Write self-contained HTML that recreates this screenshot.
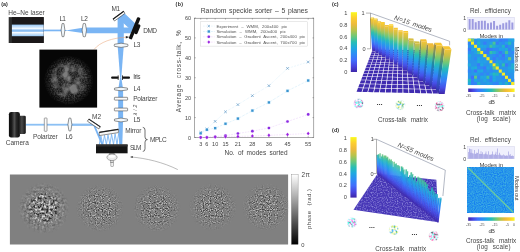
<!DOCTYPE html>
<html><head><meta charset="utf-8"><title>Figure</title>
<style>
html,body{margin:0;padding:0;background:#fff;}
body{width:520px;height:252px;overflow:hidden;}
svg{display:block;font-family:"Liberation Sans",sans-serif;}
</style></head><body>
<svg width="520" height="252" viewBox="0 0 520 252">
<rect x="0" y="0" width="520" height="252" fill="#ffffff"/>
<defs>
<linearGradient id="lb" x1="0" y1="0" x2="0" y2="1"><stop offset="0" stop-color="#98c8f5"/><stop offset="0.22" stop-color="#cfe5fb"/><stop offset="0.38" stop-color="#ffffff"/><stop offset="0.45" stop-color="#8abef4"/><stop offset="0.58" stop-color="#8abef4"/><stop offset="0.66" stop-color="#ffffff"/><stop offset="0.8" stop-color="#cfe5fb"/><stop offset="1" stop-color="#98c8f5"/></linearGradient>
<linearGradient id="gbar" x1="0" y1="0" x2="0" y2="1"><stop offset="0" stop-color="#ffffff"/><stop offset="1" stop-color="#000000"/></linearGradient>
<radialGradient id="spk" cx="0.5" cy="0.5" r="0.5"><stop offset="0" stop-color="#fff" stop-opacity="1"/><stop offset="0.7" stop-color="#fff" stop-opacity="0.9"/><stop offset="1" stop-color="#fff" stop-opacity="0"/></radialGradient>
<radialGradient id="blobm" cx="0.5" cy="0.5" r="0.5"><stop offset="0" stop-color="#fff" stop-opacity="1"/><stop offset="0.55" stop-color="#fff" stop-opacity="0.85"/><stop offset="1" stop-color="#fff" stop-opacity="0"/></radialGradient>
<filter id="fspk" x="0" y="0" width="1" height="1" color-interpolation-filters="sRGB">
<feTurbulence type="fractalNoise" baseFrequency="0.14" numOctaves="2" seed="12" result="n"/>
<feColorMatrix in="n" type="matrix" values="0 0 0 0 0  0 0 0 0 0  0 0 0 0 0  3.0 1.0 0 0 -1.55" result="a"/>
<feFlood flood-color="#808080"/><feComposite in2="a" operator="in"/><feGaussianBlur stdDeviation="0.35"/>
</filter>
<filter id="fspk2" x="0" y="0" width="1" height="1" color-interpolation-filters="sRGB">
<feTurbulence type="fractalNoise" baseFrequency="0.7" numOctaves="1" seed="9" result="n"/>
<feColorMatrix in="n" type="matrix" values="0 0 0 0 0  0 0 0 0 0  0 0 0 0 0  3 0 0 0 -1.15" result="a"/>
<feFlood flood-color="#4c4c4c"/><feComposite in2="a" operator="in"/>
</filter>
<filter id="fph1" x="0" y="0" width="1" height="1" color-interpolation-filters="sRGB">
<feTurbulence type="fractalNoise" baseFrequency="0.45" numOctaves="2" seed="3" result="n"/>
<feColorMatrix in="n" type="matrix" values="2.6 0 0 0 -0.8  2.6 0 0 0 -0.8  2.6 0 0 0 -0.8  0 0 0 0 1"/>
<feComponentTransfer><feFuncR type="table" tableValues="0.16 0.32 0.46 0.5 0.54 0.68 0.84"/><feFuncG type="table" tableValues="0.16 0.32 0.46 0.5 0.54 0.68 0.84"/><feFuncB type="table" tableValues="0.16 0.32 0.46 0.5 0.54 0.68 0.84"/></feComponentTransfer>
</filter>
<filter id="fph2" x="0" y="0" width="1" height="1" color-interpolation-filters="sRGB">
<feTurbulence type="fractalNoise" baseFrequency="0.85" numOctaves="1" seed="11" result="n"/>
<feColorMatrix in="n" type="matrix" values="3.2 0 0 0 -1.1  3.2 0 0 0 -1.1  3.2 0 0 0 -1.1  0 0 0 0 1"/>
<feComponentTransfer><feFuncR type="table" tableValues="0.27 0.41 0.5 0.5 0.5 0.59 0.73"/><feFuncG type="table" tableValues="0.27 0.41 0.5 0.5 0.5 0.59 0.73"/><feFuncB type="table" tableValues="0.27 0.41 0.5 0.5 0.5 0.59 0.73"/></feComponentTransfer>
</filter>
<radialGradient id="blob1" cx="0.5" cy="0.5" r="0.5"><stop offset="0" stop-color="#fff" stop-opacity="1"/><stop offset="0.45" stop-color="#fff" stop-opacity="0.95"/><stop offset="0.62" stop-color="#fff" stop-opacity="0.4"/><stop offset="1" stop-color="#fff" stop-opacity="0"/></radialGradient>
<radialGradient id="blob2" cx="0.5" cy="0.5" r="0.5"><stop offset="0" stop-color="#fff" stop-opacity="1"/><stop offset="0.5" stop-color="#fff" stop-opacity="0.85"/><stop offset="0.75" stop-color="#fff" stop-opacity="0.4"/><stop offset="1" stop-color="#fff" stop-opacity="0"/></radialGradient>
<mask id="mspk"><circle cx="68.8" cy="80.3" r="19.5" fill="url(#spk)"/></mask><mask id="mspk2"><circle cx="68.8" cy="80.3" r="25" fill="url(#spk)"/></mask>
</defs>
<text x="1.3" y="5.6" font-size="5.3" textLength="6.5" lengthAdjust="spacing" fill="#2a2a2a" font-weight="bold">(a)</text>
<text x="8.3" y="15.1" font-size="6.5" word-spacing="0.27" textLength="36.4" lengthAdjust="spacing" fill="#454545">He–Ne laser</text>
<rect x="8.7" y="17.1" width="35" height="25.9" fill="#2e2e2e"/>
<rect x="11.9" y="17.1" width="31.8" height="25.9" fill="#1b1819"/>
<rect x="11.9" y="24.6" width="31.8" height="11.6" fill="url(#lb)"/>
<rect x="43.7" y="29.6" width="19.5" height="1.7" fill="#7ab5f4"/>
<polygon points="63,29.6 67.1,30.3 84.3,27.6 84.3,33.3 67.1,30.7 63,31.3" fill="#7ab5f4"/>
<polygon points="84.3,27.6 133.2,27.6 130.9,33.3 84.3,33.3" fill="#7ab5f4"/>
<polygon points="123.6,12.6 135.8,23.9 132.6,31.5 128.2,27.6 123.8,23.4 117.6,17.8" fill="#7ab5f4"/>
<polygon points="117.6,17.2 123.8,12.6 123.8,45.3 117.6,45.3" fill="#7ab5f4"/>
<polygon points="117.6,45.3 123.8,45.3 121.3,77.6 120.1,77.6" fill="#7ab5f4"/>
<polygon points="120.1,77.6 121.3,77.6 123.1,89 118.3,89" fill="#7ab5f4"/>
<rect x="118.2" y="89" width="4.9" height="31" fill="#7ab5f4"/>
<polygon points="118.2,120 123.1,120 122.3,144.5 119.2,144.5" fill="#7ab5f4"/>
<path d="M120.6,144.5 L118.7,133.2 L117.0,144.5 L115.1,133.7 L113.5,144.5 L111.6,134.3 L109.9,144.5 L108.0,134.8 L106.4,144.5 L104.5,135.4 L102.8,144.5 L100.9,135.9 L99.3,144.5" fill="none" stroke="#7ab5f4" stroke-width="0.9" stroke-linejoin="miter"/>
<path d="M102.3,144.5 L94.4,126" fill="none" stroke="#7ab5f4" stroke-width="1.9"/>
<rect x="25.8" y="123.8" width="43.7" height="1.8" fill="#8cc0f4"/>
<rect x="69.5" y="123.6" width="25.5" height="2.3" fill="#8cc0f4"/>
<path d="M62.05,23.700000000000003 Q63,23.1 63.95,23.700000000000003 Q65.85,30.1 63.95,36.5 Q63,37.1 62.05,36.5 Q60.15,30.1 62.05,23.700000000000003 Z" fill="#f2f8fc" stroke="#4a4a4a" stroke-width="0.6"/>
<path d="M83.2,23.700000000000003 Q84.3,23.1 85.39999999999999,23.700000000000003 Q87.6,30.1 85.39999999999999,36.5 Q84.3,37.1 83.2,36.5 Q81.0,30.1 83.2,23.700000000000003 Z" fill="#f2f8fc" stroke="#4a4a4a" stroke-width="0.6"/>
<text x="59.4" y="21.2" font-size="6.5" textLength="6.4" lengthAdjust="spacing" fill="#454545">L1</text>
<text x="81" y="21.2" font-size="6.5" textLength="6.8" lengthAdjust="spacing" fill="#454545">L2</text>
<g transform="translate(119,16.1) rotate(-36)"><rect x="-6.5" y="-1.2" width="13" height="2.5" fill="#fff" stroke="#2a2a2a" stroke-width="0.5"/><rect x="-6.7" y="-1.6" width="13.4" height="1.1" fill="#1a1a1a"/></g>
<text x="111.6" y="11.1" font-size="6.5" textLength="8.5" lengthAdjust="spacing" fill="#454545">M1</text>
<g transform="translate(134.6,28.3) rotate(22.5)"><rect x="-1.7" y="-11.6" width="3.4" height="23.2" rx="1" fill="#111"/><rect x="1" y="-5.4" width="3.6" height="10.4" rx="1.6" fill="#111"/></g>
<text x="143.3" y="33.2" font-size="6.5" textLength="13.6" lengthAdjust="spacing" fill="#454545">DMD</text>
<path d="M94,49.5 C100,42 112,38 126.2,37.2" fill="none" stroke="#e8a070" stroke-width="0.5"/>
<polygon points="125.8,35.9 129.2,37.1 125.8,38.4" fill="#222"/>
<path d="M114.5,44.25 Q113.9,45.3 114.5,46.349999999999994 Q121.1,48.449999999999996 127.69999999999999,46.349999999999994 Q128.29999999999998,45.3 127.69999999999999,44.25 Q121.1,42.15 114.5,44.25 Z" fill="#f2f8fc" stroke="#4a4a4a" stroke-width="0.6"/>
<text x="133.6" y="47.4" font-size="6.5" textLength="6.8" lengthAdjust="spacing" fill="#454545">L3</text>
<rect x="111.1" y="76.5" width="7.4" height="2.2" rx="1" fill="#111"/><rect x="122.3" y="76.5" width="7.7" height="2.2" rx="1" fill="#111"/><rect x="117.7" y="75.4" width="0.9" height="4.5" fill="#222"/><rect x="122" y="75.4" width="0.9" height="4.5" fill="#222"/>
<text x="133.2" y="79.4" font-size="6.5" textLength="7.4" lengthAdjust="spacing" fill="#454545">Iris</text>
<path d="M114.6,88.1 Q114.0,89 114.6,89.9 Q121,91.7 127.4,89.9 Q128.0,89 127.4,88.1 Q121,86.3 114.6,88.1 Z" fill="#f2f8fc" stroke="#4a4a4a" stroke-width="0.6"/>
<text x="133.6" y="91.1" font-size="6.5" textLength="6.8" lengthAdjust="spacing" fill="#454545">L4</text>
<rect x="114.4" y="97.3" width="13.2" height="2.8" rx="0.5" fill="#fbfbfb" stroke="#4a4a4a" stroke-width="0.6"/>
<text x="133.2" y="100.8" font-size="6.5" textLength="24.2" lengthAdjust="spacing" fill="#454545">Polarizer</text>
<rect x="114.4" y="108.1" width="13.2" height="2.8" rx="0.5" fill="#fbfbfb" stroke="#4a4a4a" stroke-width="0.6"/>
<text x="136.6" y="115.3" font-size="5.0" textLength="10.6" lengthAdjust="spacing" fill="#454545" transform="rotate(-90 136.6 115.3)" font-style="italic">λ/2</text>
<path d="M114.6,119.05 Q114.0,120 114.6,120.95 Q121,122.85 127.4,120.95 Q128.0,120 127.4,119.05 Q121,117.15 114.6,119.05 Z" fill="#f2f8fc" stroke="#4a4a4a" stroke-width="0.6"/>
<text x="133.6" y="122.3" font-size="6.5" textLength="6.8" lengthAdjust="spacing" fill="#454545">L5</text>
<polygon points="99.3,132.2 118.4,129.2 118.4,132.6 99.3,135.6" fill="#f8f8f8" stroke="#222" stroke-width="0.5"/>
<polygon points="99.3,131.8 118.4,128.8 118.4,130.1 99.3,133.1" fill="#1c1c1c"/>
<rect x="96" y="144.5" width="31.6" height="8.8" fill="#141414"/>
<rect x="96" y="144.5" width="31.6" height="2" fill="#2f2f2f"/>
<rect x="109.2" y="153.3" width="5.4" height="1.6" fill="#555"/><ellipse cx="112" cy="157.3" rx="5.1" ry="3.3" fill="#ececec" stroke="#666" stroke-width="0.5"/><ellipse cx="112" cy="156.4" rx="3.2" ry="1.4" fill="#fff"/><rect x="110.4" y="160.4" width="3.3" height="2.2" fill="#d8d8d8" stroke="#666" stroke-width="0.4"/><rect x="110.9" y="162.6" width="2.4" height="3.8" fill="#f0f0f0" stroke="#555" stroke-width="0.4"/>
<text x="125.3" y="132.9" font-size="6.5" textLength="16.1" lengthAdjust="spacing" fill="#454545">Mirror</text>
<text x="129.9" y="149.5" font-size="6.5" textLength="11.5" lengthAdjust="spacing" fill="#454545">SLM</text>
<path d="M142.8,127.4 Q145,127.4 145,130 L145,137 Q145,139.6 147.4,139.6 Q145,139.6 145,142.2 L145,148.8 Q145,151.4 142.8,151.4" fill="none" stroke="#333" stroke-width="0.7"/>
<text x="149.9" y="142" font-size="6.5" textLength="16.8" lengthAdjust="spacing" fill="#454545">MPLC</text>
<g transform="translate(93.9,123.9) rotate(34)"><rect x="-6.9" y="-1.3" width="13.8" height="2.7" fill="#fff" stroke="#2a2a2a" stroke-width="0.55"/><rect x="-7" y="-1.6" width="14" height="1" fill="#222"/></g>
<text x="92" y="119" font-size="6.5" textLength="9" lengthAdjust="spacing" fill="#454545">M2</text>
<path d="M68.9,118.3 Q69.9,117.7 70.9,118.3 Q72.9,124.5 70.9,130.7 Q69.9,131.29999999999998 68.9,130.7 Q66.9,124.5 68.9,118.3 Z" fill="#f2f8fc" stroke="#4a4a4a" stroke-width="0.6"/>
<text x="65.4" y="138.7" font-size="6.5" textLength="7.2" lengthAdjust="spacing" fill="#454545">L6</text>
<rect x="44.3" y="118" width="2.7" height="13.3" rx="0.5" fill="#fbfbfb" stroke="#666" stroke-width="0.6"/>
<text x="33.1" y="138.7" font-size="6.5" textLength="24.6" lengthAdjust="spacing" fill="#454545">Polarizer</text>
<linearGradient id="camg" x1="0" y1="0" x2="1" y2="0"><stop offset="0" stop-color="#0c0c0c"/><stop offset="0.25" stop-color="#1a1a1a"/><stop offset="0.5" stop-color="#505050"/><stop offset="0.7" stop-color="#262626"/><stop offset="1" stop-color="#101010"/></linearGradient><linearGradient id="camg2" x1="0" y1="0" x2="1" y2="0"><stop offset="0" stop-color="#161616"/><stop offset="0.45" stop-color="#4a4a4a"/><stop offset="0.75" stop-color="#2a2a2a"/><stop offset="1" stop-color="#151515"/></linearGradient><rect x="8.9" y="112" width="11" height="25.4" rx="2.2" fill="url(#camg)"/><rect x="18.6" y="115.7" width="7.2" height="18.2" rx="1.3" fill="url(#camg2)"/>
<text x="5.8" y="144.5" font-size="6.5" textLength="23" lengthAdjust="spacing" fill="#454545">Camera</text>
<rect x="39.4" y="49.6" width="57.7" height="58" fill="#060606"/>
<radialGradient id="glow" cx="0.5" cy="0.5" r="0.5"><stop offset="0" stop-color="#fff" stop-opacity="0.13"/><stop offset="0.55" stop-color="#fff" stop-opacity="0.09"/><stop offset="1" stop-color="#fff" stop-opacity="0"/></radialGradient><circle cx="68.8" cy="80.3" r="25" fill="url(#glow)"/>
<g mask="url(#mspk2)"><rect x="39.8" y="49.6" width="57.3" height="58.3" filter="url(#fspk2)"/></g>
<g mask="url(#mspk)"><rect x="39.8" y="49.6" width="57.3" height="58.3" filter="url(#fspk)"/></g>
<path d="M131.5,157 C146,158.3 163,162.2 177.8,169.6" fill="none" stroke="#6a6a6a" stroke-width="0.45"/>
<polygon points="130,156.9 132.8,155.9 132.7,158.1" fill="#333"/>
<rect x="9.9" y="174.5" width="278.2" height="70" fill="#808080"/>
<mask id="mb0"><circle cx="43.8" cy="208.2" r="26" fill="url(#blob1)"/></mask><g mask="url(#mb0)"><rect x="17.799999999999997" y="182.2" width="52" height="52" filter="url(#fph1)"/></g>
<mask id="mb1"><circle cx="99.8" cy="208.2" r="24" fill="url(#blob2)"/></mask><g mask="url(#mb1)"><rect x="75.8" y="184.2" width="48" height="48" filter="url(#fph2)"/></g>
<mask id="mb2"><circle cx="156.8" cy="208.2" r="24" fill="url(#blob2)"/></mask><g mask="url(#mb2)"><rect x="132.8" y="184.2" width="48" height="48" filter="url(#fph2)"/></g>
<mask id="mb3"><circle cx="212.8" cy="207" r="24" fill="url(#blob2)"/></mask><g mask="url(#mb3)"><rect x="188.8" y="183" width="48" height="48" filter="url(#fph2)"/></g>
<mask id="mb4"><circle cx="266" cy="207" r="24" fill="url(#blob2)"/></mask><g mask="url(#mb4)"><rect x="242" y="183" width="48" height="48" filter="url(#fph2)"/></g>
<rect x="291.4" y="174.6" width="6.7" height="69.8" fill="url(#gbar)" stroke="#666" stroke-width="0.3"/>
<text x="301.6" y="177" font-size="6.4" textLength="8.4" lengthAdjust="spacing" fill="#454545">2π</text>
<text x="301.3" y="246.9" font-size="5.8" fill="#454545">0</text>
<text x="310.5" y="229" font-size="6.0" word-spacing="2.70" textLength="40" lengthAdjust="spacing" fill="#454545" transform="rotate(-90 310.5 229)">phase (rad.)</text>
<text x="175.6" y="5.6" font-size="5.3" textLength="7.3" lengthAdjust="spacing" fill="#2a2a2a" font-weight="bold">(b)</text>
<text x="200.7" y="12.8" font-size="6.8" word-spacing="0.82" textLength="107.3" lengthAdjust="spacing" fill="#454545">Random speckle sorter – 5 planes</text>
<rect x="194.5" y="18.2" width="119.30000000000001" height="119.3" fill="#fff" stroke="#555" stroke-width="0.5"/>
<path d="M200.70,137.5 v-1.3 M200.70,18.2 v1.3 M206.90,137.5 v-1.3 M206.90,18.2 v1.3 M215.17,137.5 v-1.3 M215.17,18.2 v1.3 M225.50,137.5 v-1.3 M225.50,18.2 v1.3 M237.91,137.5 v-1.3 M237.91,18.2 v1.3 M252.38,137.5 v-1.3 M252.38,18.2 v1.3 M268.91,137.5 v-1.3 M268.91,18.2 v1.3 M287.51,137.5 v-1.3 M287.51,18.2 v1.3 M308.19,137.5 v-1.3 M308.19,18.2 v1.3 M194.5,137.50 h1.3 M313.8,137.50 h-1.3 M194.5,117.58 h1.3 M313.8,117.58 h-1.3 M194.5,97.66 h1.3 M313.8,97.66 h-1.3 M194.5,77.74 h1.3 M313.8,77.74 h-1.3 M194.5,57.82 h1.3 M313.8,57.82 h-1.3 M194.5,37.90 h1.3 M313.8,37.90 h-1.3 M194.5,17.98 h1.3 M313.8,17.98 h-1.3 " stroke="#555" stroke-width="0.45" fill="none"/>
<text x="191.0" y="139.5" font-size="5.5" text-anchor="end" fill="#454545">0</text>
<text x="191.0" y="119.58" font-size="5.5" text-anchor="end" fill="#454545">10</text>
<text x="191.0" y="99.66" font-size="5.5" text-anchor="end" fill="#454545">20</text>
<text x="191.0" y="79.74000000000001" font-size="5.5" text-anchor="end" fill="#454545">30</text>
<text x="191.0" y="59.81999999999999" font-size="5.5" text-anchor="end" fill="#454545">40</text>
<text x="191.0" y="39.900000000000006" font-size="5.5" text-anchor="end" fill="#454545">50</text>
<text x="191.0" y="19.980000000000004" font-size="5.5" text-anchor="end" fill="#454545">60</text>
<text x="200.701" y="146.4" font-size="5.5" text-anchor="middle" fill="#454545">3</text>
<text x="206.902" y="146.4" font-size="5.5" text-anchor="middle" fill="#454545">6</text>
<text x="215.17000000000002" y="146.4" font-size="5.5" text-anchor="middle" fill="#454545">10</text>
<text x="225.505" y="146.4" font-size="5.5" text-anchor="middle" fill="#454545">15</text>
<text x="237.907" y="146.4" font-size="5.5" text-anchor="middle" fill="#454545">21</text>
<text x="252.376" y="146.4" font-size="5.5" text-anchor="middle" fill="#454545">28</text>
<text x="268.91200000000003" y="146.4" font-size="5.5" text-anchor="middle" fill="#454545">36</text>
<text x="287.515" y="146.4" font-size="5.5" text-anchor="middle" fill="#454545">45</text>
<text x="308.185" y="146.4" font-size="5.5" text-anchor="middle" fill="#454545">55</text>
<text x="224.5" y="154.9" font-size="6.5" word-spacing="1.49" textLength="63" lengthAdjust="spacing" fill="#454545">No. of modes sorted</text>
<text x="180.7" y="112.3" font-size="6.4" word-spacing="2.88" textLength="82" lengthAdjust="spacing" fill="#454545" transform="rotate(-90 180.7 112.3)">Average cross-talk, %</text>
<polyline points="200.70,132.32 206.90,128.93 215.17,121.36 225.50,111.80 237.91,104.63 252.38,95.67 268.91,85.71 287.51,68.38 308.19,62.00" fill="none" stroke="#8fd0f0" stroke-width="0.45" stroke-dasharray="0.5 1.1" opacity="0.8"/>
<polyline points="200.70,133.32 206.90,129.73 215.17,128.14 225.50,123.76 237.91,118.58 252.38,110.61 268.91,102.44 287.51,90.89 308.19,80.53" fill="none" stroke="#5ab8ea" stroke-width="0.45" stroke-dasharray="0.5 1.1" opacity="0.8"/>
<polyline points="200.70,137.30 206.90,137.20 215.17,136.70 225.50,135.61 237.91,133.52 252.38,131.13 268.91,127.94 287.51,121.56 308.19,114.39" fill="none" stroke="#c57af0" stroke-width="0.45" stroke-dasharray="0.5 1.1" opacity="0.8"/>
<polyline points="200.70,137.40 206.90,137.40 215.17,137.10 225.50,136.70 237.91,136.40 252.38,136.11 268.91,135.31 287.51,134.51 308.19,133.52" fill="none" stroke="#d070f0" stroke-width="0.45" stroke-dasharray="0.5 1.1" opacity="0.8"/>
<path d="M199.40,131.02 L202.00,133.62 M199.40,133.62 L202.00,131.02" stroke="#5893c2" stroke-width="0.65" fill="none"/><path d="M205.60,127.63 L208.20,130.23 M205.60,130.23 L208.20,127.63" stroke="#5893c2" stroke-width="0.65" fill="none"/><path d="M213.87,120.06 L216.47,122.66 M213.87,122.66 L216.47,120.06" stroke="#5893c2" stroke-width="0.65" fill="none"/><path d="M224.20,110.50 L226.81,113.10 M224.20,113.10 L226.81,110.50" stroke="#5893c2" stroke-width="0.65" fill="none"/><path d="M236.61,103.33 L239.21,105.93 M236.61,105.93 L239.21,103.33" stroke="#5893c2" stroke-width="0.65" fill="none"/><path d="M251.08,94.37 L253.68,96.97 M251.08,96.97 L253.68,94.37" stroke="#5893c2" stroke-width="0.65" fill="none"/><path d="M267.61,84.41 L270.21,87.01 M267.61,87.01 L270.21,84.41" stroke="#5893c2" stroke-width="0.65" fill="none"/><path d="M286.21,67.08 L288.81,69.68 M286.21,69.68 L288.81,67.08" stroke="#5893c2" stroke-width="0.65" fill="none"/><path d="M306.88,60.70 L309.49,63.30 M306.88,63.30 L309.49,60.70" stroke="#5893c2" stroke-width="0.65" fill="none"/>
<rect x="199.05" y="131.67" width="3.3" height="3.3" fill="#bfe6fa" opacity="0.6"/><rect x="199.55" y="132.17" width="2.3" height="2.3" fill="#3a93cf"/><rect x="205.25" y="128.08" width="3.3" height="3.3" fill="#bfe6fa" opacity="0.6"/><rect x="205.75" y="128.58" width="2.3" height="2.3" fill="#3a93cf"/><rect x="213.52" y="126.49" width="3.3" height="3.3" fill="#bfe6fa" opacity="0.6"/><rect x="214.02" y="126.99" width="2.3" height="2.3" fill="#3a93cf"/><rect x="223.85" y="122.11" width="3.3" height="3.3" fill="#bfe6fa" opacity="0.6"/><rect x="224.35" y="122.61" width="2.3" height="2.3" fill="#3a93cf"/><rect x="236.26" y="116.93" width="3.3" height="3.3" fill="#bfe6fa" opacity="0.6"/><rect x="236.76" y="117.43" width="2.3" height="2.3" fill="#3a93cf"/><rect x="250.73" y="108.96" width="3.3" height="3.3" fill="#bfe6fa" opacity="0.6"/><rect x="251.23" y="109.46" width="2.3" height="2.3" fill="#3a93cf"/><rect x="267.26" y="100.79" width="3.3" height="3.3" fill="#bfe6fa" opacity="0.6"/><rect x="267.76" y="101.29" width="2.3" height="2.3" fill="#3a93cf"/><rect x="285.87" y="89.24" width="3.3" height="3.3" fill="#bfe6fa" opacity="0.6"/><rect x="286.37" y="89.74" width="2.3" height="2.3" fill="#3a93cf"/><rect x="306.54" y="78.88" width="3.3" height="3.3" fill="#bfe6fa" opacity="0.6"/><rect x="307.04" y="79.38" width="2.3" height="2.3" fill="#3a93cf"/>
<circle cx="200.70" cy="137.30" r="1.8" fill="#e6c8fa" opacity="0.6"/><circle cx="200.70" cy="137.30" r="1.3" fill="#8a2be2"/><circle cx="206.90" cy="137.20" r="1.8" fill="#e6c8fa" opacity="0.6"/><circle cx="206.90" cy="137.20" r="1.3" fill="#8a2be2"/><circle cx="215.17" cy="136.70" r="1.8" fill="#e6c8fa" opacity="0.6"/><circle cx="215.17" cy="136.70" r="1.3" fill="#8a2be2"/><circle cx="225.50" cy="135.61" r="1.8" fill="#e6c8fa" opacity="0.6"/><circle cx="225.50" cy="135.61" r="1.3" fill="#8a2be2"/><circle cx="237.91" cy="133.52" r="1.8" fill="#e6c8fa" opacity="0.6"/><circle cx="237.91" cy="133.52" r="1.3" fill="#8a2be2"/><circle cx="252.38" cy="131.13" r="1.8" fill="#e6c8fa" opacity="0.6"/><circle cx="252.38" cy="131.13" r="1.3" fill="#8a2be2"/><circle cx="268.91" cy="127.94" r="1.8" fill="#e6c8fa" opacity="0.6"/><circle cx="268.91" cy="127.94" r="1.3" fill="#8a2be2"/><circle cx="287.51" cy="121.56" r="1.8" fill="#e6c8fa" opacity="0.6"/><circle cx="287.51" cy="121.56" r="1.3" fill="#8a2be2"/><circle cx="308.19" cy="114.39" r="1.8" fill="#e6c8fa" opacity="0.6"/><circle cx="308.19" cy="114.39" r="1.3" fill="#8a2be2"/>
<polygon points="200.70,135.15 202.50,137.40 200.70,139.65 198.90,137.40" fill="#ecc8fa" opacity="0.6"/><polygon points="200.70,135.65 202.10,137.40 200.70,139.15 199.30,137.40" fill="#9a22e0"/><polygon points="206.90,135.15 208.70,137.40 206.90,139.65 205.10,137.40" fill="#ecc8fa" opacity="0.6"/><polygon points="206.90,135.65 208.30,137.40 206.90,139.15 205.50,137.40" fill="#9a22e0"/><polygon points="215.17,134.85 216.97,137.10 215.17,139.35 213.37,137.10" fill="#ecc8fa" opacity="0.6"/><polygon points="215.17,135.35 216.57,137.10 215.17,138.85 213.77,137.10" fill="#9a22e0"/><polygon points="225.50,134.45 227.31,136.70 225.50,138.95 223.70,136.70" fill="#ecc8fa" opacity="0.6"/><polygon points="225.50,134.95 226.91,136.70 225.50,138.45 224.10,136.70" fill="#9a22e0"/><polygon points="237.91,134.15 239.71,136.40 237.91,138.65 236.11,136.40" fill="#ecc8fa" opacity="0.6"/><polygon points="237.91,134.65 239.31,136.40 237.91,138.15 236.51,136.40" fill="#9a22e0"/><polygon points="252.38,133.86 254.18,136.11 252.38,138.36 250.58,136.11" fill="#ecc8fa" opacity="0.6"/><polygon points="252.38,134.36 253.78,136.11 252.38,137.86 250.98,136.11" fill="#9a22e0"/><polygon points="268.91,133.06 270.71,135.31 268.91,137.56 267.11,135.31" fill="#ecc8fa" opacity="0.6"/><polygon points="268.91,133.56 270.31,135.31 268.91,137.06 267.51,135.31" fill="#9a22e0"/><polygon points="287.51,132.26 289.31,134.51 287.51,136.76 285.72,134.51" fill="#ecc8fa" opacity="0.6"/><polygon points="287.51,132.76 288.91,134.51 287.51,136.26 286.12,134.51" fill="#9a22e0"/><polygon points="308.19,131.27 309.98,133.52 308.19,135.77 306.39,133.52" fill="#ecc8fa" opacity="0.6"/><polygon points="308.19,131.77 309.58,133.52 308.19,135.27 306.79,133.52" fill="#9a22e0"/>
<rect x="200.4" y="21.8" width="106.8" height="24.3" fill="#fff" stroke="#c8c8c8" stroke-width="0.4"/>
<path d="M203,26.1 H214.6" stroke="#8fd0f0" stroke-width="0.45" stroke-dasharray="0.5 1.1" opacity="0.8"/><text x="216.4" y="27.6" font-size="4.3" word-spacing="1.82" textLength="70.6" lengthAdjust="spacing" fill="#555">Experiment – WMM, 200x400 pix</text>
<path d="M203,31.5 H214.6" stroke="#5ab8ea" stroke-width="0.45" stroke-dasharray="0.5 1.1" opacity="0.8"/><text x="216.4" y="33.0" font-size="4.3" word-spacing="1.88" textLength="69.2" lengthAdjust="spacing" fill="#555">Simulation – WMM, 200x400 pix</text>
<path d="M203,36.8 H214.6" stroke="#c57af0" stroke-width="0.45" stroke-dasharray="0.5 1.1" opacity="0.8"/><text x="216.4" y="38.3" font-size="4.3" word-spacing="1.51" textLength="88.6" lengthAdjust="spacing" fill="#555">Simulation – Gradient Ascent, 200x400 pix</text>
<path d="M203,42.1 H214.6" stroke="#d070f0" stroke-width="0.45" stroke-dasharray="0.5 1.1" opacity="0.8"/><text x="216.4" y="43.6" font-size="4.3" word-spacing="1.51" textLength="88.6" lengthAdjust="spacing" fill="#555">Simulation – Gradient Ascent, 700x700 pix</text>
<path d="M207.70,25.00 L209.90,27.20 M207.70,27.20 L209.90,25.00" stroke="#5893c2" stroke-width="0.65" fill="none"/><rect x="207.15" y="29.85" width="3.3" height="3.3" fill="#bfe6fa" opacity="0.6"/><rect x="207.65" y="30.35" width="2.3" height="2.3" fill="#3a93cf"/><circle cx="208.80" cy="36.80" r="1.8" fill="#e6c8fa" opacity="0.6"/><circle cx="208.80" cy="36.80" r="1.3" fill="#8a2be2"/><polygon points="208.80,39.90 210.56,42.10 208.80,44.30 207.04,42.10" fill="#ecc8fa" opacity="0.6"/><polygon points="208.80,40.40 210.16,42.10 208.80,43.80 207.44,42.10" fill="#9a22e0"/>
<defs><linearGradient id="pg1" x1="0" y1="1" x2="0" y2="0"><stop offset="0.00" stop-color="#3e26a8"/><stop offset="0.50" stop-color="#402eb6"/><stop offset="1.00" stop-color="#4336c4"/></linearGradient><linearGradient id="pg2" x1="0" y1="1" x2="0" y2="0"><stop offset="0.00" stop-color="#3e26a8"/><stop offset="0.50" stop-color="#4336c4"/><stop offset="1.00" stop-color="#4846e1"/></linearGradient><linearGradient id="pg3" x1="0" y1="1" x2="0" y2="0"><stop offset="0.00" stop-color="#3e26a8"/><stop offset="0.50" stop-color="#463ed3"/><stop offset="1.00" stop-color="#445aee"/></linearGradient><linearGradient id="pg4" x1="0" y1="1" x2="0" y2="0"><stop offset="0.00" stop-color="#3e26a8"/><stop offset="0.50" stop-color="#4846e1"/><stop offset="1.00" stop-color="#416efc"/></linearGradient><linearGradient id="pg5" x1="0" y1="1" x2="0" y2="0"><stop offset="0.00" stop-color="#3e26a8"/><stop offset="0.50" stop-color="#4650e8"/><stop offset="1.00" stop-color="#377df8"/></linearGradient><linearGradient id="pg6" x1="0" y1="1" x2="0" y2="0"><stop offset="0.00" stop-color="#3e26a8"/><stop offset="0.50" stop-color="#445aee"/><stop offset="1.00" stop-color="#2d8cf5"/></linearGradient><linearGradient id="pg7" x1="0" y1="1" x2="0" y2="0"><stop offset="0.00" stop-color="#3e26a8"/><stop offset="0.33" stop-color="#474de6"/><stop offset="0.67" stop-color="#3a78fa"/><stop offset="1.00" stop-color="#269aeb"/></linearGradient><linearGradient id="pg8" x1="0" y1="1" x2="0" y2="0"><stop offset="0.00" stop-color="#3e26a8"/><stop offset="0.33" stop-color="#4653ea"/><stop offset="0.67" stop-color="#3482f7"/><stop offset="1.00" stop-color="#20a8e1"/></linearGradient><linearGradient id="pg9" x1="0" y1="1" x2="0" y2="0"><stop offset="0.00" stop-color="#3e26a8"/><stop offset="0.25" stop-color="#474be4"/><stop offset="0.50" stop-color="#3c76fa"/><stop offset="0.75" stop-color="#2896ee"/><stop offset="1.00" stop-color="#24b3ca"/></linearGradient><linearGradient id="pg10" x1="0" y1="1" x2="0" y2="0"><stop offset="0.00" stop-color="#3e26a8"/><stop offset="0.25" stop-color="#4650e8"/><stop offset="0.50" stop-color="#377df8"/><stop offset="0.75" stop-color="#23a1e6"/><stop offset="1.00" stop-color="#28beb4"/></linearGradient><linearGradient id="pg11" x1="0" y1="1" x2="0" y2="0"><stop offset="0.00" stop-color="#3e26a8"/><stop offset="0.25" stop-color="#4555eb"/><stop offset="0.50" stop-color="#3284f7"/><stop offset="0.75" stop-color="#21abdb"/><stop offset="1.00" stop-color="#4bc396"/></linearGradient><linearGradient id="pg12" x1="0" y1="1" x2="0" y2="0"><stop offset="0.00" stop-color="#3e26a8"/><stop offset="0.20" stop-color="#474ee6"/><stop offset="0.40" stop-color="#397af9"/><stop offset="0.60" stop-color="#259de9"/><stop offset="0.80" stop-color="#26babd"/><stop offset="1.00" stop-color="#6ec878"/></linearGradient><linearGradient id="pg13" x1="0" y1="1" x2="0" y2="0"><stop offset="0.00" stop-color="#3e26a8"/><stop offset="0.20" stop-color="#4652e9"/><stop offset="0.40" stop-color="#3580f8"/><stop offset="0.60" stop-color="#21a5e3"/><stop offset="0.80" stop-color="#36c0a8"/><stop offset="1.00" stop-color="#94c661"/></linearGradient><linearGradient id="pg14" x1="0" y1="1" x2="0" y2="0"><stop offset="0.00" stop-color="#3e26a8"/><stop offset="0.17" stop-color="#474de6"/><stop offset="0.33" stop-color="#3a78fa"/><stop offset="0.50" stop-color="#269aeb"/><stop offset="0.67" stop-color="#25b7c3"/><stop offset="0.83" stop-color="#62c682"/><stop offset="1.00" stop-color="#b9c34b"/></linearGradient><linearGradient id="pg15" x1="0" y1="1" x2="0" y2="0"><stop offset="0.00" stop-color="#3e26a8"/><stop offset="0.17" stop-color="#4650e8"/><stop offset="0.33" stop-color="#377df8"/><stop offset="0.50" stop-color="#23a1e6"/><stop offset="0.67" stop-color="#28beb4"/><stop offset="0.83" stop-color="#81c76d"/><stop offset="1.00" stop-color="#d4be44"/></linearGradient><linearGradient id="pg16" x1="0" y1="1" x2="0" y2="0"><stop offset="0.00" stop-color="#3e26a8"/><stop offset="0.17" stop-color="#4653ea"/><stop offset="0.33" stop-color="#3482f7"/><stop offset="0.50" stop-color="#20a8e1"/><stop offset="0.67" stop-color="#3fc1a0"/><stop offset="0.83" stop-color="#a0c55a"/><stop offset="1.00" stop-color="#eeba3c"/></linearGradient><linearGradient id="pg17" x1="0" y1="1" x2="0" y2="0"><stop offset="0.00" stop-color="#3e26a8"/><stop offset="0.14" stop-color="#464fe7"/><stop offset="0.29" stop-color="#387bf9"/><stop offset="0.43" stop-color="#259ee8"/><stop offset="0.57" stop-color="#27bbba"/><stop offset="0.71" stop-color="#73c875"/><stop offset="0.86" stop-color="#c8c047"/><stop offset="1.00" stop-color="#f5c436"/></linearGradient><linearGradient id="pg18" x1="0" y1="1" x2="0" y2="0"><stop offset="0.00" stop-color="#3e26a8"/><stop offset="0.14" stop-color="#4651e9"/><stop offset="0.29" stop-color="#367ff8"/><stop offset="0.43" stop-color="#22a4e4"/><stop offset="0.57" stop-color="#32bfab"/><stop offset="0.71" stop-color="#8ec665"/><stop offset="0.86" stop-color="#dfbd40"/><stop offset="1.00" stop-color="#fccd30"/></linearGradient><linearGradient id="pg19" x1="0" y1="1" x2="0" y2="0"><stop offset="0.00" stop-color="#3e26a8"/><stop offset="0.12" stop-color="#474ee6"/><stop offset="0.25" stop-color="#3a79f9"/><stop offset="0.38" stop-color="#269cea"/><stop offset="0.50" stop-color="#26b8bf"/><stop offset="0.62" stop-color="#6ac77c"/><stop offset="0.75" stop-color="#c0c249"/><stop offset="0.88" stop-color="#f2c038"/><stop offset="1.00" stop-color="#fae327"/></linearGradient><linearGradient id="pg20" x1="0" y1="1" x2="0" y2="0"><stop offset="0.00" stop-color="#3e26a8"/><stop offset="0.12" stop-color="#4650e8"/><stop offset="0.25" stop-color="#377df8"/><stop offset="0.38" stop-color="#23a1e6"/><stop offset="0.50" stop-color="#28beb4"/><stop offset="0.62" stop-color="#81c76d"/><stop offset="0.75" stop-color="#d4be44"/><stop offset="0.88" stop-color="#f8c833"/><stop offset="1.00" stop-color="#f9fa1e"/></linearGradient><linearGradient id="pbar" x1="0" y1="1" x2="0" y2="0"><stop offset="0.00" stop-color="#3e26a8"/><stop offset="0.10" stop-color="#4846e1"/><stop offset="0.20" stop-color="#416efc"/><stop offset="0.30" stop-color="#2d8cf5"/><stop offset="0.40" stop-color="#20a8e1"/><stop offset="0.50" stop-color="#28beb4"/><stop offset="0.60" stop-color="#6ec878"/><stop offset="0.70" stop-color="#b9c34b"/><stop offset="0.80" stop-color="#eeba3c"/><stop offset="0.90" stop-color="#fccd30"/><stop offset="1.00" stop-color="#f9fa1e"/></linearGradient><linearGradient id="pbarh" x1="0" y1="0" x2="1" y2="0"><stop offset="0.00" stop-color="#3e26a8"/><stop offset="0.10" stop-color="#4846e1"/><stop offset="0.20" stop-color="#416efc"/><stop offset="0.30" stop-color="#2d8cf5"/><stop offset="0.40" stop-color="#20a8e1"/><stop offset="0.50" stop-color="#28beb4"/><stop offset="0.60" stop-color="#6ec878"/><stop offset="0.70" stop-color="#b9c34b"/><stop offset="0.80" stop-color="#eeba3c"/><stop offset="0.90" stop-color="#fccd30"/><stop offset="1.00" stop-color="#f9fa1e"/></linearGradient>
<filter id="fmat" x="0" y="0" width="1" height="1" color-interpolation-filters="sRGB">
<feTurbulence type="fractalNoise" baseFrequency="0.9" numOctaves="1" seed="4"/>
<feColorMatrix type="matrix" values="0.32 0 0 0 -0.005  0.4 0 0 0 0.385  -0.1 0 0 0 0.965  0 0 0 0 1"/>
</filter>
<filter id="ffloor" x="0" y="0" width="1" height="1" color-interpolation-filters="sRGB">
<feTurbulence type="fractalNoise" baseFrequency="0.8" numOctaves="1" seed="8"/>
<feColorMatrix type="matrix" values="0 0 0 0 0.75  0 0 0 0 0.75  0 0 0 0 0.95  3 0 0 0 -1.3"/>
</filter>
<filter id="fic1" x="0" y="0" width="1" height="1" color-interpolation-filters="sRGB">
<feTurbulence type="fractalNoise" baseFrequency="0.5" numOctaves="2" seed="7"/>
<feColorMatrix type="matrix" values="-2.2 0 0 0 1.9  0 -1.6 0 0 1.65  -0.9 -0.9 0 0 1.85  0 0 0 0 1"/>
</filter>
<filter id="fic2" x="0" y="0" width="1" height="1" color-interpolation-filters="sRGB">
<feTurbulence type="fractalNoise" baseFrequency="0.5" numOctaves="2" seed="12"/>
<feColorMatrix type="matrix" values="-1.9 0 0 0 1.78  -0.8 0 0 0 1.33  0 -1.9 0 0 1.78  0 0 0 0 1"/>
</filter>
<filter id="fic3" x="0" y="0" width="1" height="1" color-interpolation-filters="sRGB">
<feTurbulence type="fractalNoise" baseFrequency="0.5" numOctaves="2" seed="17"/>
<feColorMatrix type="matrix" values="0 -2.0 0 0 1.83  -2.2 0 0 0 1.9  -1.5 -0.6 0 0 1.92  0 0 0 0 1"/>
</filter>
<radialGradient id="icm" cx="0.5" cy="0.5" r="0.5"><stop offset="0" stop-color="#fff" stop-opacity="1"/><stop offset="0.7" stop-color="#fff" stop-opacity="0.95"/><stop offset="1" stop-color="#fff" stop-opacity="0"/></radialGradient>
</defs>
<text x="332.1" y="5.6" font-size="5.3" textLength="6.4" lengthAdjust="spacing" fill="#2a2a2a" font-weight="bold">(c)</text>
<rect x="350.8" y="12.2" width="6.2" height="59.8" fill="url(#pbar)"/>
<text x="347.4" y="15.1" font-size="5.6" text-anchor="end" fill="#454545">1</text>
<text x="347.4" y="26.799999999999997" font-size="5.6" text-anchor="end" fill="#454545">0.8</text>
<text x="347.4" y="38.5" font-size="5.6" text-anchor="end" fill="#454545">0.6</text>
<text x="347.4" y="50.199999999999996" font-size="5.6" text-anchor="end" fill="#454545">0.4</text>
<text x="347.4" y="61.9" font-size="5.6" text-anchor="end" fill="#454545">0.2</text>
<text x="347.4" y="73.59999999999998" font-size="5.6" text-anchor="end" fill="#454545">0</text>
<polygon points="376.42,49.53 379.59,49.58 379.14,51.17 375.89,51.12" fill="#3f2bb0"/><polygon points="380.11,49.58 383.29,49.63 382.91,51.22 379.67,51.17" fill="#3f2bb0"/><polygon points="383.81,49.63 386.99,49.67 386.70,51.27 383.44,51.23" fill="#3f2bb0"/><polygon points="387.51,49.68 390.70,49.72 390.48,51.32 387.23,51.28" fill="#3f2bb0"/><polygon points="391.22,49.73 394.41,49.77 394.28,51.37 391.01,51.33" fill="#3f2bb0"/><polygon points="394.93,49.78 398.13,49.82 398.07,51.42 394.81,51.38" fill="#3f2bb0"/><polygon points="398.65,49.83 401.85,49.87 401.88,51.48 398.61,51.43" fill="#3f2bb0"/><polygon points="402.37,49.88 405.58,49.92 405.69,51.53 402.41,51.48" fill="#3f2bb0"/><polygon points="406.10,49.93 409.31,49.97 409.50,51.58 406.22,51.53" fill="#3f2bb0"/><polygon points="409.83,49.98 413.05,50.02 413.32,51.63 410.03,51.59" fill="#3f2bb0"/><polygon points="413.57,50.03 416.79,50.07 417.14,51.68 413.85,51.64" fill="#3f2bb0"/><polygon points="417.32,50.08 420.54,50.12 420.97,51.74 417.68,51.69" fill="#3f2bb0"/><polygon points="421.06,50.13 424.29,50.17 424.81,51.79 421.51,51.74" fill="#3f2bb0"/><polygon points="424.82,50.18 428.05,50.22 428.65,51.84 425.34,51.79" fill="#3f2bb0"/>
<polygon points="375.33,51.10 375.86,49.54 374.01,17.51 373.40,18.46" fill="url(#pg18)"/><polygon points="375.33,51.10 375.86,49.54 374.01,17.51 373.40,18.46" fill="#1a2a6a" opacity="0.33"/><polygon points="372.17,51.05 375.33,51.10 373.40,18.46 369.95,18.43" fill="url(#pg18)"/><polygon points="370.64,17.48 374.01,17.51 373.40,18.46 369.95,18.43" fill="#fcd22e"/>
<polygon points="372.02,51.34 375.28,51.38 374.71,53.05 371.39,53.01" fill="#3f2bb0"/><polygon points="379.59,51.44 382.85,51.48 382.45,53.16 379.12,53.11" fill="#3f2bb0"/><polygon points="383.38,51.49 386.65,51.54 386.33,53.21 383.00,53.17" fill="#3f2bb0"/><polygon points="387.18,51.54 390.45,51.59 390.22,53.27 386.88,53.22" fill="#3f2bb0"/><polygon points="390.98,51.60 394.25,51.64 394.11,53.32 390.76,53.28" fill="#3f2bb0"/><polygon points="394.79,51.65 398.07,51.69 398.01,53.38 394.66,53.33" fill="#3f2bb0"/><polygon points="398.60,51.70 401.88,51.74 401.91,53.43 398.55,53.38" fill="#3f2bb0"/><polygon points="402.42,51.75 405.70,51.80 405.82,53.49 402.46,53.44" fill="#3f2bb0"/><polygon points="406.24,51.80 409.53,51.85 409.73,53.54 406.36,53.49" fill="#3f2bb0"/><polygon points="410.07,51.86 413.36,51.90 413.65,53.60 410.28,53.55" fill="#3f2bb0"/><polygon points="413.90,51.91 417.20,51.95 417.57,53.65 414.20,53.60" fill="#3f2bb0"/><polygon points="417.74,51.96 421.05,52.00 421.50,53.70 418.12,53.66" fill="#3f2bb0"/><polygon points="421.58,52.01 424.89,52.06 425.44,53.76 422.05,53.71" fill="#3f2bb0"/><polygon points="425.43,52.06 428.75,52.11 429.38,53.81 425.99,53.77" fill="#3f2bb0"/>
<polygon points="378.55,53.09 379.02,51.45 377.40,18.51 376.85,19.52" fill="url(#pg18)"/><polygon points="378.55,53.09 379.02,51.45 377.40,18.51 376.85,19.52" fill="#1a2a6a" opacity="0.33"/><polygon points="375.29,53.04 378.55,53.09 376.85,19.52 373.29,19.49" fill="url(#pg18)"/><polygon points="373.93,18.48 377.40,18.51 376.85,19.52 373.29,19.49" fill="#fcd42d"/>
<polygon points="371.28,53.29 374.62,53.33 374.02,55.09 370.61,55.04" fill="#3f2bb0"/><polygon points="375.16,53.34 378.50,53.39 377.99,55.15 374.58,55.10" fill="#3f2bb0"/><polygon points="382.93,53.45 386.28,53.50 385.95,55.26 382.53,55.21" fill="#3f2bb0"/><polygon points="386.83,53.50 390.18,53.55 389.94,55.32 386.51,55.27" fill="#3f2bb0"/><polygon points="390.73,53.56 394.09,53.60 393.94,55.38 390.50,55.33" fill="#3f2bb0"/><polygon points="394.63,53.61 398.00,53.66 397.94,55.43 394.50,55.39" fill="#3f2bb0"/><polygon points="398.55,53.67 401.91,53.71 401.94,55.49 398.50,55.44" fill="#3f2bb0"/><polygon points="402.46,53.72 405.84,53.77 405.95,55.55 402.50,55.50" fill="#3f2bb0"/><polygon points="406.38,53.78 409.76,53.82 409.97,55.61 406.52,55.56" fill="#3f2bb0"/><polygon points="410.31,53.83 413.70,53.88 413.99,55.66 410.53,55.61" fill="#3f2bb0"/><polygon points="414.25,53.89 417.63,53.93 418.02,55.72 414.56,55.67" fill="#3f2bb0"/><polygon points="418.19,53.94 421.58,53.99 422.06,55.78 418.59,55.73" fill="#3f2bb0"/><polygon points="422.13,54.00 425.53,54.04 426.10,55.84 422.62,55.79" fill="#3f2bb0"/><polygon points="426.08,54.05 429.48,54.10 430.15,55.89 426.67,55.85" fill="#3f2bb0"/>
<polygon points="381.94,55.19 382.35,53.46 381.06,21.24 380.58,22.34" fill="url(#pg18)"/><polygon points="381.94,55.19 382.35,53.46 381.06,21.24 380.58,22.34" fill="#1a2a6a" opacity="0.33"/><polygon points="378.59,55.14 381.94,55.19 380.58,22.34 376.92,22.31" fill="url(#pg18)"/><polygon points="377.49,21.21 381.06,21.24 380.58,22.34 376.92,22.31" fill="#f9c933"/>
<polygon points="370.50,55.34 373.92,55.39 373.29,57.24 369.79,57.19" fill="#3f2bb0"/><polygon points="374.48,55.39 377.91,55.44 377.37,57.30 373.86,57.25" fill="#3f2bb0"/><polygon points="378.47,55.45 381.90,55.50 381.46,57.36 377.94,57.31" fill="#3f2bb0"/><polygon points="386.46,55.57 389.90,55.62 389.65,57.48 386.12,57.43" fill="#3f2bb0"/><polygon points="390.46,55.62 393.91,55.67 393.75,57.54 390.22,57.49" fill="#3f2bb0"/><polygon points="394.47,55.68 397.93,55.73 397.86,57.60 394.33,57.55" fill="#3f2bb0"/><polygon points="398.49,55.74 401.95,55.79 401.98,57.66 398.44,57.61" fill="#3f2bb0"/><polygon points="402.51,55.80 405.97,55.85 406.10,57.73 402.55,57.67" fill="#3f2bb0"/><polygon points="406.54,55.85 410.01,55.90 410.23,57.79 406.68,57.73" fill="#3f2bb0"/><polygon points="410.57,55.91 414.04,55.96 414.36,57.85 410.80,57.79" fill="#3f2bb0"/><polygon points="414.61,55.97 418.09,56.02 418.50,57.91 414.94,57.85" fill="#3f2bb0"/><polygon points="418.66,56.03 422.14,56.08 422.65,57.97 419.08,57.92" fill="#3f2bb0"/><polygon points="422.71,56.09 426.20,56.14 426.80,58.03 423.23,57.98" fill="#3f2bb0"/><polygon points="426.76,56.14 430.26,56.20 430.96,58.09 427.38,58.04" fill="#3f2bb0"/>
<polygon points="385.53,57.41 385.87,55.57 384.85,21.91 384.45,23.07" fill="url(#pg18)"/><polygon points="385.53,57.41 385.87,55.57 384.85,21.91 384.45,23.07" fill="#1a2a6a" opacity="0.33"/><polygon points="382.06,57.36 385.53,57.41 384.45,23.07 380.64,23.04" fill="url(#pg18)"/><polygon points="381.14,21.88 384.85,21.91 384.45,23.07 380.64,23.04" fill="#fbcc31"/>
<polygon points="369.67,57.50 373.19,57.55 372.53,59.51 368.92,59.46" fill="#3f2bb0"/><polygon points="373.76,57.56 377.28,57.61 376.72,59.58 373.11,59.52" fill="#3f2bb0"/><polygon points="377.86,57.62 381.38,57.67 380.92,59.64 377.31,59.59" fill="#3f2bb0"/><polygon points="381.96,57.68 385.49,57.74 385.12,59.70 381.51,59.65" fill="#3f2bb0"/><polygon points="390.18,57.80 393.72,57.86 393.56,59.83 389.93,59.78" fill="#3f2bb0"/><polygon points="394.30,57.86 397.85,57.92 397.78,59.90 394.15,59.84" fill="#3f2bb0"/><polygon points="398.43,57.93 401.98,57.98 402.01,59.96 398.37,59.90" fill="#3f2bb0"/><polygon points="402.56,57.99 406.12,58.04 406.25,60.02 402.61,59.97" fill="#3f2bb0"/><polygon points="406.70,58.05 410.26,58.10 410.50,60.09 406.84,60.03" fill="#3f2bb0"/><polygon points="410.84,58.11 414.41,58.16 414.75,60.15 411.09,60.10" fill="#3f2bb0"/><polygon points="414.99,58.17 418.57,58.22 419.00,60.22 415.34,60.16" fill="#3f2bb0"/><polygon points="419.15,58.23 422.73,58.28 423.27,60.28 419.60,60.23" fill="#3f2bb0"/><polygon points="423.32,58.29 426.90,58.35 427.54,60.35 423.87,60.29" fill="#3f2bb0"/><polygon points="427.49,58.35 431.08,58.41 431.82,60.41 428.14,60.35" fill="#3f2bb0"/>
<polygon points="389.32,59.76 389.59,57.80 388.93,24.96 388.63,26.24" fill="url(#pg17)"/><polygon points="389.32,59.76 389.59,57.80 388.93,24.96 388.63,26.24" fill="#1a2a6a" opacity="0.33"/><polygon points="385.73,59.71 389.32,59.76 388.63,26.24 384.69,26.20" fill="url(#pg17)"/><polygon points="385.10,24.93 388.93,24.96 388.63,26.24 384.69,26.20" fill="#f6c535"/>
<polygon points="368.80,59.79 372.41,59.84 371.71,61.92 368.01,61.86" fill="#3f2bb0"/><polygon points="373.00,59.85 376.62,59.91 376.03,61.98 372.32,61.93" fill="#3f2bb0"/><polygon points="377.21,59.92 380.84,59.97 380.35,62.05 376.63,61.99" fill="#3f2bb0"/><polygon points="381.43,59.98 385.06,60.03 384.67,62.12 380.95,62.06" fill="#3f2bb0"/><polygon points="385.65,60.04 389.29,60.10 389.01,62.19 385.28,62.13" fill="#3f2bb0"/><polygon points="394.12,60.17 397.77,60.23 397.70,62.32 393.96,62.26" fill="#3f2bb0"/><polygon points="398.36,60.24 402.02,60.29 402.05,62.39 398.31,62.33" fill="#3f2bb0"/><polygon points="402.61,60.30 406.27,60.36 406.41,62.46 402.66,62.40" fill="#3f2bb0"/><polygon points="406.87,60.37 410.53,60.42 410.78,62.52 407.02,62.47" fill="#3f2bb0"/><polygon points="411.13,60.43 414.80,60.49 415.16,62.59 411.39,62.53" fill="#3f2bb0"/><polygon points="415.40,60.49 419.08,60.55 419.54,62.66 415.77,62.60" fill="#3f2bb0"/><polygon points="419.68,60.56 423.36,60.62 423.93,62.73 420.15,62.67" fill="#3f2bb0"/><polygon points="423.96,60.62 427.65,60.68 428.32,62.80 424.54,62.74" fill="#3f2bb0"/><polygon points="428.25,60.69 431.94,60.75 432.73,62.87 428.94,62.81" fill="#3f2bb0"/>
<polygon points="393.35,62.25 393.53,60.16 393.21,24.32 393.01,25.65" fill="url(#pg18)"/><polygon points="393.35,62.25 393.53,60.16 393.21,24.32 393.01,25.65" fill="#1a2a6a" opacity="0.33"/><polygon points="389.61,62.20 393.35,62.25 393.01,25.65 388.88,25.61" fill="url(#pg18)"/><polygon points="389.19,24.29 393.21,24.32 393.01,25.65 388.88,25.61" fill="#fcd02f"/>
<polygon points="367.88,62.21 371.60,62.26 370.85,64.46 367.04,64.40" fill="#3f2bb0"/><polygon points="372.20,62.27 375.93,62.33 375.29,64.53 371.47,64.47" fill="#3f2bb0"/><polygon points="376.53,62.34 380.26,62.40 379.74,64.60 375.92,64.54" fill="#3f2bb0"/><polygon points="380.87,62.41 384.61,62.47 384.20,64.68 380.37,64.61" fill="#3f2bb0"/><polygon points="385.22,62.48 388.96,62.54 388.66,64.75 384.82,64.69" fill="#3f2bb0"/><polygon points="389.57,62.54 393.32,62.60 393.13,64.82 389.29,64.76" fill="#3f2bb0"/><polygon points="398.30,62.68 402.06,62.74 402.09,64.96 398.24,64.90" fill="#3f2bb0"/><polygon points="402.67,62.75 406.44,62.81 406.58,65.03 402.72,64.97" fill="#3f2bb0"/><polygon points="407.05,62.82 410.82,62.88 411.08,65.11 407.21,65.04" fill="#3f2bb0"/><polygon points="411.44,62.89 415.22,62.95 415.59,65.18 411.71,65.12" fill="#3f2bb0"/><polygon points="415.83,62.95 419.61,63.01 420.10,65.25 416.22,65.19" fill="#3f2bb0"/><polygon points="420.23,63.02 424.02,63.08 424.62,65.32 420.74,65.26" fill="#3f2bb0"/><polygon points="424.64,63.09 428.44,63.15 429.15,65.40 425.26,65.33" fill="#3f2bb0"/><polygon points="429.05,63.16 432.86,63.22 433.69,65.47 429.79,65.41" fill="#3f2bb0"/>
<polygon points="397.63,64.90 397.71,62.66 397.82,27.69 397.73,29.17" fill="url(#pg17)"/><polygon points="397.63,64.90 397.71,62.66 397.82,27.69 397.73,29.17" fill="#1a2a6a" opacity="0.33"/><polygon points="393.73,64.84 397.63,64.90 397.73,29.17 393.44,29.13" fill="url(#pg17)"/><polygon points="393.64,27.65 397.82,27.69 397.73,29.17 393.44,29.13" fill="#f7c634"/>
<polygon points="366.90,64.77 370.73,64.83 369.94,67.16 366.01,67.10" fill="#3f2bb0"/><polygon points="371.35,64.84 375.19,64.90 374.52,67.24 370.58,67.17" fill="#3f2bb0"/><polygon points="375.81,64.91 379.65,64.97 379.10,67.31 375.16,67.25" fill="#3f2bb0"/><polygon points="380.28,64.98 384.13,65.05 383.69,67.39 379.74,67.32" fill="#3f2bb0"/><polygon points="384.76,65.06 388.61,65.12 388.29,67.47 384.34,67.40" fill="#3f2bb0"/><polygon points="389.24,65.13 393.10,65.19 392.90,67.54 388.94,67.48" fill="#3f2bb0"/><polygon points="393.73,65.20 397.59,65.26 397.51,67.62 393.54,67.55" fill="#3f2bb0"/><polygon points="402.73,65.34 406.61,65.41 406.77,67.77 402.78,67.70" fill="#3f2bb0"/><polygon points="407.24,65.42 411.13,65.48 411.40,67.85 407.41,67.78" fill="#3f2bb0"/><polygon points="411.76,65.49 415.65,65.55 416.05,67.92 412.05,67.86" fill="#3f2bb0"/><polygon points="416.29,65.56 420.18,65.63 420.70,68.00 416.70,67.93" fill="#3f2bb0"/><polygon points="420.82,65.64 424.72,65.70 425.36,68.08 421.35,68.01" fill="#3f2bb0"/><polygon points="425.36,65.71 429.27,65.77 430.03,68.15 426.02,68.09" fill="#3f2bb0"/><polygon points="429.91,65.78 433.83,65.84 434.71,68.23 430.69,68.17" fill="#3f2bb0"/>
<polygon points="398.11,67.66 402.18,67.72 402.77,31.81 398.27,31.76" fill="url(#pg17)"/><polygon points="398.34,30.15 402.71,30.19 402.77,31.81 398.27,31.76" fill="#f5c336"/>
<polygon points="365.86,67.49 369.81,67.55 368.97,70.03 364.92,69.97" fill="#3f2bb0"/><polygon points="370.45,67.56 374.40,67.63 373.69,70.11 369.63,70.05" fill="#3f2bb0"/><polygon points="375.05,67.64 379.01,67.71 378.42,70.20 374.35,70.13" fill="#3f2bb0"/><polygon points="379.65,67.72 383.62,67.78 383.15,70.28 379.08,70.21" fill="#3f2bb0"/><polygon points="384.26,67.79 388.24,67.86 387.90,70.36 383.82,70.29" fill="#3f2bb0"/><polygon points="388.89,67.87 392.86,67.94 392.65,70.44 388.56,70.37" fill="#3f2bb0"/><polygon points="393.51,67.95 397.50,68.01 397.41,70.52 393.32,70.45" fill="#3f2bb0"/><polygon points="398.15,68.02 402.14,68.09 402.18,70.60 398.08,70.53" fill="#3f2bb0"/><polygon points="407.44,68.18 411.45,68.24 411.74,70.76 407.63,70.69" fill="#3f2bb0"/><polygon points="412.10,68.26 416.12,68.32 416.54,70.84 412.42,70.77" fill="#3f2bb0"/><polygon points="416.77,68.33 420.79,68.40 421.34,70.93 417.21,70.86" fill="#3f2bb0"/><polygon points="421.44,68.41 425.47,68.48 426.15,71.01 422.01,70.94" fill="#3f2bb0"/><polygon points="426.13,68.49 430.16,68.55 430.97,71.09 426.83,71.02" fill="#3f2bb0"/><polygon points="430.82,68.57 434.86,68.63 435.80,71.17 431.65,71.10" fill="#3f2bb0"/>
<polygon points="402.39,68.05 402.77,70.66 403.46,32.62 403.25,30.90" fill="url(#pg17)"/><polygon points="402.39,68.05 402.77,70.66 403.46,32.62 403.25,30.90" fill="#1a2a6a" opacity="0.33"/><polygon points="402.77,70.66 407.04,70.73 408.21,32.67 403.46,32.62" fill="url(#pg17)"/><polygon points="403.25,30.90 407.98,30.94 408.21,32.67 403.46,32.62" fill="#f8c833"/>
<polygon points="364.76,70.38 368.83,70.45 367.93,73.09 363.75,73.02" fill="#3f2bb0"/><polygon points="369.49,70.46 373.57,70.53 372.81,73.18 368.62,73.11" fill="#3f2bb0"/><polygon points="374.23,70.54 378.32,70.61 377.69,73.26 373.49,73.19" fill="#3f2bb0"/><polygon points="378.98,70.62 383.08,70.69 382.58,73.35 378.37,73.28" fill="#3f2bb0"/><polygon points="383.74,70.71 387.84,70.78 387.48,73.44 383.27,73.36" fill="#3f2bb0"/><polygon points="388.51,70.79 392.62,70.86 392.39,73.52 388.17,73.45" fill="#3f2bb0"/><polygon points="393.28,70.87 397.40,70.94 397.31,73.61 393.08,73.54" fill="#3f2bb0"/><polygon points="398.07,70.95 402.19,71.02 402.23,73.70 397.99,73.62" fill="#3f2bb0"/><polygon points="402.86,71.03 406.99,71.10 407.17,73.78 402.92,73.71" fill="#3f2bb0"/><polygon points="412.47,71.20 416.61,71.27 417.06,73.96 412.80,73.88" fill="#3f2bb0"/><polygon points="417.28,71.28 421.43,71.35 422.02,74.04 417.75,73.97" fill="#3f2bb0"/><polygon points="422.11,71.36 426.27,71.43 426.99,74.13 422.72,74.06" fill="#3f2bb0"/><polygon points="426.94,71.44 431.11,71.52 431.97,74.22 427.69,74.14" fill="#3f2bb0"/><polygon points="431.78,71.53 435.96,71.60 436.96,74.31 432.67,74.23" fill="#3f2bb0"/>
<polygon points="407.06,71.04 407.75,73.87 408.86,40.37 408.40,38.33" fill="url(#pg15)"/><polygon points="407.06,71.04 407.75,73.87 408.86,40.37 408.40,38.33" fill="#1a2a6a" opacity="0.33"/><polygon points="407.75,73.87 412.23,73.95 413.79,40.42 408.86,40.37" fill="url(#pg15)"/><polygon points="408.40,38.33 413.37,38.39 413.79,40.42 408.86,40.37" fill="#d8be42"/>
<polygon points="363.58,73.46 367.78,73.54 366.83,76.36 362.51,76.28" fill="#3f2bb0"/><polygon points="368.47,73.55 372.68,73.62 371.87,76.45 367.53,76.37" fill="#3f2bb0"/><polygon points="373.37,73.64 377.58,73.71 376.91,76.54 372.57,76.46" fill="#3f2bb0"/><polygon points="378.27,73.72 382.50,73.80 381.97,76.63 377.62,76.55" fill="#3f2bb0"/><polygon points="383.19,73.81 387.42,73.88 387.03,76.73 382.68,76.65" fill="#3f2bb0"/><polygon points="388.11,73.90 392.35,73.97 392.11,76.82 387.74,76.74" fill="#3f2bb0"/><polygon points="393.04,73.98 397.29,74.06 397.19,76.91 392.82,76.83" fill="#3f2bb0"/><polygon points="397.98,74.07 402.24,74.15 402.28,77.00 397.90,76.92" fill="#3f2bb0"/><polygon points="402.93,74.16 407.20,74.23 407.39,77.10 403.00,77.02" fill="#3f2bb0"/><polygon points="407.89,74.25 412.16,74.32 412.50,77.19 408.10,77.11" fill="#3f2bb0"/><polygon points="417.83,74.42 422.12,74.50 422.75,77.37 418.34,77.29" fill="#3f2bb0"/><polygon points="422.82,74.51 427.11,74.59 427.89,77.47 423.47,77.39" fill="#3f2bb0"/><polygon points="427.81,74.60 432.11,74.67 433.04,77.56 428.61,77.48" fill="#3f2bb0"/><polygon points="432.82,74.69 437.13,74.76 438.20,77.66 433.76,77.57" fill="#3f2bb0"/>
<polygon points="412.04,74.23 413.07,77.30 414.74,43.59 414.01,41.34" fill="url(#pg15)"/><polygon points="412.04,74.23 413.07,77.30 414.74,43.59 414.01,41.34" fill="#1a2a6a" opacity="0.33"/><polygon points="413.07,77.30 417.79,77.39 419.94,43.66 414.74,43.59" fill="url(#pg15)"/><polygon points="414.01,41.34 419.30,41.40 419.94,43.66 414.74,43.59" fill="#d1bf44"/>
<polygon points="362.33,76.75 366.67,76.83 365.65,79.85 361.18,79.77" fill="#3f2bb0"/><polygon points="367.38,76.85 371.73,76.93 370.86,79.95 366.38,79.86" fill="#3f2bb0"/><polygon points="372.44,76.94 376.80,77.02 376.08,80.05 371.59,79.96" fill="#3f2bb0"/><polygon points="377.51,77.03 381.88,77.11 381.31,80.15 376.81,80.06" fill="#3f2bb0"/><polygon points="382.59,77.12 386.97,77.20 386.56,80.24 382.05,80.16" fill="#3f2bb0"/><polygon points="387.68,77.22 392.07,77.30 391.81,80.34 387.29,80.26" fill="#3f2bb0"/><polygon points="392.78,77.31 397.17,77.39 397.07,80.44 392.54,80.36" fill="#3f2bb0"/><polygon points="397.89,77.40 402.29,77.48 402.34,80.54 397.81,80.46" fill="#3f2bb0"/><polygon points="403.01,77.50 407.42,77.58 407.62,80.64 403.08,80.56" fill="#3f2bb0"/><polygon points="408.14,77.59 412.55,77.67 412.91,80.74 408.36,80.65" fill="#3f2bb0"/><polygon points="413.27,77.68 417.70,77.77 418.21,80.84 413.65,80.75" fill="#3f2bb0"/><polygon points="423.58,77.87 428.02,77.95 428.85,81.04 424.27,80.95" fill="#3f2bb0"/><polygon points="428.74,77.97 433.19,78.05 434.18,81.14 429.59,81.05" fill="#3f2bb0"/><polygon points="433.92,78.06 438.38,78.14 439.52,81.24 434.93,81.15" fill="#3f2bb0"/>
<polygon points="417.38,77.64 418.77,81.00 421.42,41.64 420.36,39.30" fill="url(#pg17)"/><polygon points="417.38,77.64 418.77,81.00 421.42,41.64 420.36,39.30" fill="#1a2a6a" opacity="0.33"/><polygon points="418.77,81.00 423.77,81.09 427.02,41.70 421.42,41.64" fill="url(#pg17)"/><polygon points="420.36,39.30 426.08,39.36 427.02,41.70 421.42,41.64" fill="#f3c138"/>
<polygon points="360.98,80.27 365.48,80.36 364.38,83.60 359.75,83.51" fill="#3f2bb0"/><polygon points="366.21,80.37 370.71,80.46 369.78,83.70 365.14,83.61" fill="#3f2bb0"/><polygon points="371.45,80.47 375.96,80.56 375.19,83.81 370.54,83.72" fill="#3f2bb0"/><polygon points="376.70,80.57 381.22,80.66 380.61,83.91 375.95,83.82" fill="#3f2bb0"/><polygon points="381.96,80.67 386.49,80.76 386.04,84.02 381.37,83.93" fill="#3f2bb0"/><polygon points="387.22,80.77 391.76,80.86 391.48,84.12 386.80,84.03" fill="#3f2bb0"/><polygon points="392.50,80.87 397.05,80.96 396.94,84.23 392.25,84.14" fill="#3f2bb0"/><polygon points="397.79,80.97 402.35,81.06 402.40,84.34 397.70,84.25" fill="#3f2bb0"/><polygon points="403.09,81.07 407.66,81.16 407.87,84.44 403.17,84.35" fill="#3f2bb0"/><polygon points="408.40,81.17 412.97,81.26 413.36,84.55 408.64,84.46" fill="#3f2bb0"/><polygon points="413.72,81.27 418.30,81.36 418.85,84.66 414.13,84.57" fill="#3f2bb0"/><polygon points="419.05,81.37 423.64,81.46 424.36,84.77 419.62,84.67" fill="#3f2bb0"/><polygon points="429.74,81.57 434.35,81.66 435.41,84.98 430.65,84.89" fill="#3f2bb0"/><polygon points="435.10,81.68 439.71,81.76 440.95,85.09 436.18,85.00" fill="#3f2bb0"/>
<polygon points="423.11,81.29 424.91,84.97 428.31,45.91 426.87,43.28" fill="url(#pg16)"/><polygon points="423.11,81.29 424.91,84.97 428.31,45.91 426.87,43.28" fill="#1a2a6a" opacity="0.33"/><polygon points="424.91,84.97 430.20,85.07 434.24,45.99 428.31,45.91" fill="url(#pg16)"/><polygon points="426.87,43.28 432.97,43.35 434.24,45.99 428.31,45.91" fill="#efbb3b"/>
<polygon points="359.54,84.05 364.20,84.14 363.02,87.62 358.21,87.53" fill="#3f2bb0"/><polygon points="364.96,84.16 369.62,84.25 368.62,87.74 363.81,87.64" fill="#3f2bb0"/><polygon points="370.39,84.26 375.06,84.36 374.23,87.85 369.41,87.75" fill="#3f2bb0"/><polygon points="375.82,84.37 380.51,84.46 379.86,87.96 375.02,87.87" fill="#3f2bb0"/><polygon points="381.27,84.48 385.97,84.57 385.49,88.08 380.65,87.98" fill="#3f2bb0"/><polygon points="386.73,84.58 391.44,84.68 391.14,88.19 386.28,88.09" fill="#3f2bb0"/><polygon points="392.20,84.69 396.92,84.78 396.80,88.31 391.93,88.21" fill="#3f2bb0"/><polygon points="397.69,84.80 402.41,84.89 402.46,88.42 397.59,88.32" fill="#3f2bb0"/><polygon points="403.18,84.91 407.91,85.00 408.15,88.54 403.26,88.44" fill="#3f2bb0"/><polygon points="408.68,85.01 413.42,85.11 413.84,88.65 408.94,88.55" fill="#3f2bb0"/><polygon points="414.20,85.12 418.95,85.22 419.54,88.77 414.64,88.67" fill="#3f2bb0"/><polygon points="419.72,85.23 424.48,85.32 425.26,88.88 420.34,88.78" fill="#3f2bb0"/><polygon points="425.26,85.34 430.03,85.43 430.99,89.00 426.06,88.90" fill="#3f2bb0"/><polygon points="436.36,85.56 441.15,85.65 442.48,89.23 437.53,89.13" fill="#3f2bb0"/>
<polygon points="429.28,85.21 431.52,89.26 436.28,45.58 434.38,42.76" fill="url(#pg17)"/><polygon points="429.28,85.21 431.52,89.26 436.28,45.58 434.38,42.76" fill="#1a2a6a" opacity="0.33"/><polygon points="431.52,89.26 437.15,89.37 442.68,45.66 436.28,45.58" fill="url(#pg17)"/><polygon points="434.38,42.76 440.97,42.84 442.68,45.66 436.28,45.58" fill="#f7c734"/>
<polygon points="357.99,88.11 362.82,88.21 361.55,91.96 356.56,91.86" fill="#3f2bb0"/><polygon points="363.61,88.23 368.45,88.33 367.37,92.08 362.37,91.98" fill="#3f2bb0"/><polygon points="369.24,88.34 374.09,88.44 373.20,92.21 368.19,92.10" fill="#3f2bb0"/><polygon points="374.88,88.46 379.75,88.55 379.04,92.33 374.02,92.22" fill="#3f2bb0"/><polygon points="380.54,88.57 385.41,88.67 384.90,92.45 379.86,92.35" fill="#3f2bb0"/><polygon points="386.21,88.69 391.09,88.79 390.76,92.58 385.72,92.47" fill="#3f2bb0"/><polygon points="391.88,88.80 396.77,88.90 396.64,92.70 391.59,92.59" fill="#3f2bb0"/><polygon points="397.57,88.92 402.47,89.02 402.53,92.82 397.47,92.72" fill="#3f2bb0"/><polygon points="403.27,89.03 408.19,89.13 408.44,92.95 403.36,92.84" fill="#3f2bb0"/><polygon points="408.99,89.15 413.91,89.25 414.36,93.07 409.27,92.97" fill="#3f2bb0"/><polygon points="414.71,89.27 419.64,89.37 420.28,93.20 415.18,93.09" fill="#3f2bb0"/><polygon points="420.45,89.38 425.39,89.48 426.23,93.32 421.12,93.22" fill="#3f2bb0"/><polygon points="426.19,89.50 431.15,89.60 432.18,93.45 427.06,93.34" fill="#3f2bb0"/><polygon points="431.95,89.62 436.92,89.72 438.15,93.57 433.02,93.47" fill="#3f2bb0"/>
<polygon points="435.92,89.42 438.67,93.91 444.59,49.46 442.17,46.29" fill="url(#pg17)"/><polygon points="435.92,89.42 438.67,93.91 444.59,49.46 442.17,46.29" fill="#1a2a6a" opacity="0.33"/><polygon points="438.67,93.91 444.67,94.03 451.44,49.55 444.59,49.46" fill="url(#pg17)"/><polygon points="442.17,46.29 449.24,46.37 451.44,49.55 444.59,49.46" fill="#f6c535"/>
<path d="M370.5,13.1 V48.8 M366,13.1 H370.5 M367,48.8 H370.5" stroke="#555" stroke-width="0.45" fill="none"/>
<path d="M370.5,13.1 L449.6,41.3 V45.3" stroke="#55607a" stroke-width="0.45" fill="none"/>
<text x="361.6" y="15.1" font-size="5.6" fill="#454545">1</text>
<text x="362.4" y="50.9" font-size="5.6" fill="#454545">0</text>
<text x="393.8" y="19.5" font-size="6.7" word-spacing="1.32" textLength="39.5" lengthAdjust="spacing" fill="#454545" font-style="italic" transform="rotate(18.5 393.8 19.5)">N=15 modes</text>
<mask id="icc1"><circle cx="358.6" cy="103.6" r="5.6" fill="url(#icm)"/></mask><g mask="url(#icc1)"><rect x="353.0" y="98.0" width="11.2" height="11.2" filter="url(#fic1)"/></g>
<mask id="icc2"><circle cx="400.3" cy="105" r="5.6" fill="url(#icm)"/></mask><g mask="url(#icc2)"><rect x="394.7" y="99.4" width="11.2" height="11.2" filter="url(#fic2)"/></g>
<mask id="icc3"><circle cx="439.4" cy="106.4" r="5.6" fill="url(#icm)"/></mask><g mask="url(#icc3)"><rect x="433.79999999999995" y="100.80000000000001" width="11.2" height="11.2" filter="url(#fic3)"/></g>
<text x="379.7" y="104.9" font-size="6.4" text-anchor="middle" textLength="5.8" lengthAdjust="spacing" fill="#111" font-weight="bold">...</text>
<text x="419.5" y="106.1" font-size="6.4" text-anchor="middle" textLength="5.8" lengthAdjust="spacing" fill="#111" font-weight="bold">...</text>
<text x="378" y="122" font-size="6.3" word-spacing="2.75" textLength="50" lengthAdjust="spacing" fill="#454545">Cross-talk matrix</text>
<text x="470" y="12.8" font-size="6.3" word-spacing="1.70" textLength="40.8" lengthAdjust="spacing" fill="#454545">Rel. efficiency</text>
<text x="463.2" y="19.8" font-size="5.2" fill="#454545">1</text>
<text x="463.2" y="31.6" font-size="5.2" fill="#454545">0</text>
<rect x="467.6" y="17.2" width="46.799999999999955" height="12.2" fill="#f0f0fd" stroke="#c8c8e4" stroke-width="0.4"/>
<path d="M468.63,29.4v-10.37h2.00v10.37zM471.68,29.4v-10.37h2.00v10.37zM474.73,29.4v-7.20h2.00v7.20zM477.79,29.4v-8.42h2.00v8.42zM480.84,29.4v-8.66h2.00v8.66zM483.89,29.4v-8.66h2.00v8.66zM486.95,29.4v-6.10h2.00v6.10zM490.00,29.4v-6.83h2.00v6.83zM493.05,29.4v-8.42h2.00v8.42zM496.11,29.4v-3.66h2.00v3.66zM499.16,29.4v-4.64h2.00v4.64zM502.21,29.4v-6.10h2.00v6.10zM505.27,29.4v-6.83h2.00v6.83zM508.32,29.4v-9.27h2.00v9.27zM511.37,29.4v-6.83h2.00v6.83z" fill="#9d9be0"/>
<text x="514.7" y="46.6" font-size="6.0" textLength="24.5" lengthAdjust="spacing" fill="#454545" transform="rotate(90 514.7 46.6)">Modes out</text>
<rect x="467.9" y="38.6" width="46.3" height="46.4" fill="#2995ea"/>
<rect x="467.90" y="38.60" width="3.14" height="3.14" fill="#faec23"/><rect x="470.99" y="38.60" width="3.14" height="3.14" fill="#73c875"/><rect x="477.16" y="38.60" width="3.14" height="3.14" fill="#23a2e5"/><rect x="489.51" y="38.60" width="3.14" height="3.14" fill="#3087f6"/><rect x="492.59" y="38.60" width="3.14" height="3.14" fill="#2e8af5"/><rect x="498.77" y="38.60" width="3.14" height="3.14" fill="#397af9"/><rect x="501.85" y="38.60" width="3.14" height="3.14" fill="#3384f7"/><rect x="504.94" y="38.60" width="3.14" height="3.14" fill="#3185f7"/><rect x="508.03" y="38.60" width="3.14" height="3.14" fill="#23a1e6"/><rect x="511.11" y="38.60" width="3.14" height="3.14" fill="#21a7e2"/><rect x="467.90" y="41.69" width="3.14" height="3.14" fill="#3186f6"/><rect x="470.99" y="41.69" width="3.14" height="3.14" fill="#faec23"/><rect x="474.07" y="41.69" width="3.14" height="3.14" fill="#2d8cf5"/><rect x="477.16" y="41.69" width="3.14" height="3.14" fill="#24b2cc"/><rect x="483.33" y="41.69" width="3.14" height="3.14" fill="#377df9"/><rect x="489.51" y="41.69" width="3.14" height="3.14" fill="#22a3e5"/><rect x="492.59" y="41.69" width="3.14" height="3.14" fill="#49c398"/><rect x="495.68" y="41.69" width="3.14" height="3.14" fill="#367ef8"/><rect x="501.85" y="41.69" width="3.14" height="3.14" fill="#2e8bf5"/><rect x="504.94" y="41.69" width="3.14" height="3.14" fill="#23a1e6"/><rect x="508.03" y="41.69" width="3.14" height="3.14" fill="#28bdb6"/><rect x="470.99" y="44.79" width="3.14" height="3.14" fill="#259ee8"/><rect x="474.07" y="44.79" width="3.14" height="3.14" fill="#faec23"/><rect x="477.16" y="44.79" width="3.14" height="3.14" fill="#22a4e4"/><rect x="480.25" y="44.79" width="3.14" height="3.14" fill="#20a9df"/><rect x="483.33" y="44.79" width="3.14" height="3.14" fill="#23a2e5"/><rect x="489.51" y="44.79" width="3.14" height="3.14" fill="#3ec1a1"/><rect x="492.59" y="44.79" width="3.14" height="3.14" fill="#24b3ca"/><rect x="495.68" y="44.79" width="3.14" height="3.14" fill="#259ee8"/><rect x="501.85" y="44.79" width="3.14" height="3.14" fill="#24b3cb"/><rect x="504.94" y="44.79" width="3.14" height="3.14" fill="#367ef8"/><rect x="467.90" y="47.88" width="3.14" height="3.14" fill="#3979f9"/><rect x="470.99" y="47.88" width="3.14" height="3.14" fill="#22a4e4"/><rect x="474.07" y="47.88" width="3.14" height="3.14" fill="#23a1e6"/><rect x="477.16" y="47.88" width="3.14" height="3.14" fill="#faec23"/><rect x="486.42" y="47.88" width="3.14" height="3.14" fill="#4070fc"/><rect x="489.51" y="47.88" width="3.14" height="3.14" fill="#367ef8"/><rect x="492.59" y="47.88" width="3.14" height="3.14" fill="#2f89f6"/><rect x="495.68" y="47.88" width="3.14" height="3.14" fill="#2d8bf5"/><rect x="498.77" y="47.88" width="3.14" height="3.14" fill="#24a0e7"/><rect x="501.85" y="47.88" width="3.14" height="3.14" fill="#24a0e7"/><rect x="504.94" y="47.88" width="3.14" height="3.14" fill="#22acd8"/><rect x="508.03" y="47.88" width="3.14" height="3.14" fill="#3481f8"/><rect x="511.11" y="47.88" width="3.14" height="3.14" fill="#249fe7"/><rect x="467.90" y="50.97" width="3.14" height="3.14" fill="#2d8cf5"/><rect x="474.07" y="50.97" width="3.14" height="3.14" fill="#23a2e5"/><rect x="477.16" y="50.97" width="3.14" height="3.14" fill="#3fc1a0"/><rect x="480.25" y="50.97" width="3.14" height="3.14" fill="#faec23"/><rect x="483.33" y="50.97" width="3.14" height="3.14" fill="#377df9"/><rect x="486.42" y="50.97" width="3.14" height="3.14" fill="#3a78fa"/><rect x="489.51" y="50.97" width="3.14" height="3.14" fill="#35c0a9"/><rect x="492.59" y="50.97" width="3.14" height="3.14" fill="#24b2cc"/><rect x="498.77" y="50.97" width="3.14" height="3.14" fill="#3b77fa"/><rect x="504.94" y="50.97" width="3.14" height="3.14" fill="#46c29a"/><rect x="511.11" y="50.97" width="3.14" height="3.14" fill="#3088f6"/><rect x="467.90" y="54.07" width="3.14" height="3.14" fill="#20a7e1"/><rect x="483.33" y="54.07" width="3.14" height="3.14" fill="#faec23"/><rect x="492.59" y="54.07" width="3.14" height="3.14" fill="#2d8cf5"/><rect x="495.68" y="54.07" width="3.14" height="3.14" fill="#3580f8"/><rect x="501.85" y="54.07" width="3.14" height="3.14" fill="#3e73fb"/><rect x="504.94" y="54.07" width="3.14" height="3.14" fill="#24a0e7"/><rect x="508.03" y="54.07" width="3.14" height="3.14" fill="#2e8bf5"/><rect x="467.90" y="57.16" width="3.14" height="3.14" fill="#259de9"/><rect x="474.07" y="57.16" width="3.14" height="3.14" fill="#3187f6"/><rect x="477.16" y="57.16" width="3.14" height="3.14" fill="#20a8e1"/><rect x="480.25" y="57.16" width="3.14" height="3.14" fill="#259de9"/><rect x="486.42" y="57.16" width="3.14" height="3.14" fill="#faec23"/><rect x="492.59" y="57.16" width="3.14" height="3.14" fill="#397af9"/><rect x="498.77" y="57.16" width="3.14" height="3.14" fill="#3087f6"/><rect x="501.85" y="57.16" width="3.14" height="3.14" fill="#3383f7"/><rect x="508.03" y="57.16" width="3.14" height="3.14" fill="#63c681"/><rect x="477.16" y="60.25" width="3.14" height="3.14" fill="#22add6"/><rect x="480.25" y="60.25" width="3.14" height="3.14" fill="#259ee8"/><rect x="483.33" y="60.25" width="3.14" height="3.14" fill="#24a0e7"/><rect x="489.51" y="60.25" width="3.14" height="3.14" fill="#faec23"/><rect x="492.59" y="60.25" width="3.14" height="3.14" fill="#3186f6"/><rect x="495.68" y="60.25" width="3.14" height="3.14" fill="#22a3e5"/><rect x="498.77" y="60.25" width="3.14" height="3.14" fill="#23a1e6"/><rect x="504.94" y="60.25" width="3.14" height="3.14" fill="#259de9"/><rect x="511.11" y="60.25" width="3.14" height="3.14" fill="#2d8cf5"/><rect x="467.90" y="63.35" width="3.14" height="3.14" fill="#21aadd"/><rect x="477.16" y="63.35" width="3.14" height="3.14" fill="#377cf9"/><rect x="480.25" y="63.35" width="3.14" height="3.14" fill="#20a9e0"/><rect x="489.51" y="63.35" width="3.14" height="3.14" fill="#22add7"/><rect x="492.59" y="63.35" width="3.14" height="3.14" fill="#faec23"/><rect x="495.68" y="63.35" width="3.14" height="3.14" fill="#27bcb8"/><rect x="501.85" y="63.35" width="3.14" height="3.14" fill="#30bfad"/><rect x="504.94" y="63.35" width="3.14" height="3.14" fill="#397bf9"/><rect x="511.11" y="63.35" width="3.14" height="3.14" fill="#22aed4"/><rect x="470.99" y="66.44" width="3.14" height="3.14" fill="#21a7e2"/><rect x="474.07" y="66.44" width="3.14" height="3.14" fill="#22add7"/><rect x="477.16" y="66.44" width="3.14" height="3.14" fill="#2f89f6"/><rect x="480.25" y="66.44" width="3.14" height="3.14" fill="#3087f6"/><rect x="483.33" y="66.44" width="3.14" height="3.14" fill="#3a79f9"/><rect x="486.42" y="66.44" width="3.14" height="3.14" fill="#22a3e4"/><rect x="492.59" y="66.44" width="3.14" height="3.14" fill="#58c58b"/><rect x="495.68" y="66.44" width="3.14" height="3.14" fill="#faec23"/><rect x="508.03" y="66.44" width="3.14" height="3.14" fill="#21a5e3"/><rect x="511.11" y="66.44" width="3.14" height="3.14" fill="#23b1ce"/><rect x="467.90" y="69.53" width="3.14" height="3.14" fill="#3186f7"/><rect x="474.07" y="69.53" width="3.14" height="3.14" fill="#3c75fa"/><rect x="477.16" y="69.53" width="3.14" height="3.14" fill="#21a5e3"/><rect x="480.25" y="69.53" width="3.14" height="3.14" fill="#20a8e1"/><rect x="483.33" y="69.53" width="3.14" height="3.14" fill="#3186f7"/><rect x="489.51" y="69.53" width="3.14" height="3.14" fill="#2d8bf5"/><rect x="498.77" y="69.53" width="3.14" height="3.14" fill="#faec23"/><rect x="501.85" y="69.53" width="3.14" height="3.14" fill="#259ee8"/><rect x="508.03" y="69.53" width="3.14" height="3.14" fill="#23a1e6"/><rect x="511.11" y="69.53" width="3.14" height="3.14" fill="#259de9"/><rect x="474.07" y="72.63" width="3.14" height="3.14" fill="#21a5e3"/><rect x="480.25" y="72.63" width="3.14" height="3.14" fill="#3285f7"/><rect x="486.42" y="72.63" width="3.14" height="3.14" fill="#3185f7"/><rect x="489.51" y="72.63" width="3.14" height="3.14" fill="#23a2e5"/><rect x="492.59" y="72.63" width="3.14" height="3.14" fill="#27bcb8"/><rect x="495.68" y="72.63" width="3.14" height="3.14" fill="#24b4c8"/><rect x="501.85" y="72.63" width="3.14" height="3.14" fill="#faec23"/><rect x="470.99" y="75.72" width="3.14" height="3.14" fill="#416cfb"/><rect x="474.07" y="75.72" width="3.14" height="3.14" fill="#61c683"/><rect x="477.16" y="75.72" width="3.14" height="3.14" fill="#3383f7"/><rect x="480.25" y="75.72" width="3.14" height="3.14" fill="#21a6e2"/><rect x="483.33" y="75.72" width="3.14" height="3.14" fill="#23a3e5"/><rect x="486.42" y="75.72" width="3.14" height="3.14" fill="#40c19f"/><rect x="489.51" y="75.72" width="3.14" height="3.14" fill="#3481f8"/><rect x="492.59" y="75.72" width="3.14" height="3.14" fill="#20a8e0"/><rect x="501.85" y="75.72" width="3.14" height="3.14" fill="#3186f6"/><rect x="504.94" y="75.72" width="3.14" height="3.14" fill="#faec23"/><rect x="508.03" y="75.72" width="3.14" height="3.14" fill="#2e8bf5"/><rect x="467.90" y="78.81" width="3.14" height="3.14" fill="#26b8c0"/><rect x="470.99" y="78.81" width="3.14" height="3.14" fill="#3580f8"/><rect x="474.07" y="78.81" width="3.14" height="3.14" fill="#22a5e3"/><rect x="483.33" y="78.81" width="3.14" height="3.14" fill="#21a6e2"/><rect x="489.51" y="78.81" width="3.14" height="3.14" fill="#377df9"/><rect x="492.59" y="78.81" width="3.14" height="3.14" fill="#20a8e1"/><rect x="508.03" y="78.81" width="3.14" height="3.14" fill="#faec23"/><rect x="511.11" y="78.81" width="3.14" height="3.14" fill="#2e8bf5"/><rect x="467.90" y="81.91" width="3.14" height="3.14" fill="#21aadd"/><rect x="470.99" y="81.91" width="3.14" height="3.14" fill="#367ff8"/><rect x="474.07" y="81.91" width="3.14" height="3.14" fill="#3186f6"/><rect x="477.16" y="81.91" width="3.14" height="3.14" fill="#24b4c8"/><rect x="486.42" y="81.91" width="3.14" height="3.14" fill="#23a1e6"/><rect x="492.59" y="81.91" width="3.14" height="3.14" fill="#2f89f6"/><rect x="495.68" y="81.91" width="3.14" height="3.14" fill="#3285f7"/><rect x="498.77" y="81.91" width="3.14" height="3.14" fill="#21a7e2"/><rect x="504.94" y="81.91" width="3.14" height="3.14" fill="#25b5c6"/><rect x="511.11" y="81.91" width="3.14" height="3.14" fill="#faec23"/>
<text x="479.4" y="38.1" font-size="6.0" textLength="23.8" lengthAdjust="spacing" fill="#454545">Modes in</text>
<rect x="468.2" y="88.5" width="46.4" height="3.5" fill="url(#pbarh)"/>
<text x="468.6" y="96.9" font-size="3.6" text-anchor="middle" fill="#555">-35</text>
<text x="482" y="96.9" font-size="3.6" text-anchor="middle" fill="#555">-25</text>
<text x="494.8" y="96.9" font-size="3.6" text-anchor="middle" fill="#555">-15</text>
<text x="507.4" y="96.9" font-size="3.6" text-anchor="middle" fill="#555">-5</text>
<text x="514" y="96.9" font-size="3.6" text-anchor="middle" fill="#555">0</text>
<text x="488.4" y="104.3" font-size="5.8" textLength="6.4" lengthAdjust="spacing" fill="#454545">dB</text>
<text x="466" y="115.2" font-size="6.3" word-spacing="2.83" textLength="50.2" lengthAdjust="spacing" fill="#454545">Cross-talk matrix</text>
<text x="476.8" y="121.0" font-size="6.3" word-spacing="2.83" textLength="33.7" lengthAdjust="spacing" fill="#454545">(log scale)</text>
<text x="332.1" y="132.3" font-size="5.3" textLength="6.9" lengthAdjust="spacing" fill="#2a2a2a" font-weight="bold">(d)</text>
<rect x="350.4" y="137.1" width="6.2" height="60.5" fill="url(#pbar)"/>
<text x="346.9" y="140.2" font-size="5.6" text-anchor="end" fill="#454545">1</text>
<text x="346.9" y="152.01999999999998" font-size="5.6" text-anchor="end" fill="#454545">0.8</text>
<text x="346.9" y="163.84" font-size="5.6" text-anchor="end" fill="#454545">0.6</text>
<text x="346.9" y="175.66" font-size="5.6" text-anchor="end" fill="#454545">0.4</text>
<text x="346.9" y="187.48000000000002" font-size="5.6" text-anchor="end" fill="#454545">0.2</text>
<text x="346.9" y="199.3" font-size="5.6" text-anchor="end" fill="#454545">0</text>
<polygon points="377.58,173.84 353.50,209.65 438.38,222.28 436.32,179.73" fill="#4636b6"/>
<clipPath id="fld"><polygon points="377.58,173.84 353.50,209.65 438.38,222.28 436.32,179.73"/></clipPath><g clip-path="url(#fld)"><rect x="345" y="172" width="104" height="52" filter="url(#ffloor)" opacity="0.55"/></g>
<polygon points="378.21,174.34 378.51,173.89 377.88,154.79 377.56,155.16" fill="url(#pg10)"/><polygon points="378.21,174.34 378.51,173.89 377.88,154.79 377.56,155.16" fill="#1a2a6a" opacity="0.1"/><polygon points="377.21,174.24 378.21,174.34 377.56,155.16 376.51,155.07" fill="url(#pg10)"/><polygon points="376.83,154.71 377.88,154.79 377.56,155.16 376.51,155.07" fill="#2abeb3"/>
<polygon points="378.92,174.91 379.22,174.45 378.61,154.97 378.29,155.34" fill="url(#pg10)"/><polygon points="378.92,174.91 379.22,174.45 378.61,154.97 378.29,155.34" fill="#1a2a6a" opacity="0.1"/><polygon points="377.91,174.81 378.92,174.91 378.29,155.34 377.23,155.25" fill="url(#pg10)"/><polygon points="377.55,154.88 378.61,154.97 378.29,155.34 377.23,155.25" fill="#2ebfaf"/>
<polygon points="379.64,175.48 379.94,175.01 379.31,154.05 379.00,154.42" fill="url(#pg11)"/><polygon points="379.64,175.48 379.94,175.01 379.31,154.05 379.00,154.42" fill="#1a2a6a" opacity="0.1"/><polygon points="378.62,175.38 379.64,175.48 379.00,154.42 377.92,154.34" fill="url(#pg11)"/><polygon points="378.25,153.97 379.31,154.05 379.00,154.42 377.92,154.34" fill="#46c29a"/>
<polygon points="380.37,176.06 380.66,175.58 380.18,158.39 379.87,158.78" fill="url(#pg9)"/><polygon points="380.37,176.06 380.66,175.58 380.18,158.39 379.87,158.78" fill="#1a2a6a" opacity="0.1"/><polygon points="379.34,175.95 380.37,176.06 379.87,158.78 378.80,158.69" fill="url(#pg9)"/><polygon points="379.11,158.30 380.18,158.39 379.87,158.78 378.80,158.69" fill="#24b2cc"/>
<polygon points="381.10,176.65 381.40,176.17 380.80,153.27 380.48,153.64" fill="url(#pg12)"/><polygon points="381.10,176.65 381.40,176.17 380.80,153.27 380.48,153.64" fill="#1a2a6a" opacity="0.1"/><polygon points="380.07,176.54 381.10,176.65 380.48,153.64 379.39,153.56" fill="url(#pg12)"/><polygon points="379.71,153.19 380.80,153.27 380.48,153.64 379.39,153.56" fill="#62c682"/>
<polygon points="381.85,177.24 382.14,176.76 381.71,158.92 381.40,159.32" fill="url(#pg9)"/><polygon points="381.85,177.24 382.14,176.76 381.71,158.92 381.40,159.32" fill="#1a2a6a" opacity="0.1"/><polygon points="380.81,177.14 381.85,177.24 381.40,159.32 380.31,159.23" fill="url(#pg9)"/><polygon points="380.62,158.83 381.71,158.92 381.40,159.32 380.31,159.23" fill="#25b5c7"/>
<polygon points="382.61,177.85 382.90,177.35 382.43,156.30 382.12,156.69" fill="url(#pg11)"/><polygon points="382.61,177.85 382.90,177.35 382.43,156.30 382.12,156.69" fill="#1a2a6a" opacity="0.1"/><polygon points="381.56,177.74 382.61,177.85 382.12,156.69 381.01,156.60" fill="url(#pg11)"/><polygon points="381.32,156.21 382.43,156.30 382.12,156.69 381.01,156.60" fill="#3fc1a0"/>
<polygon points="383.38,178.46 383.67,177.96 383.18,154.27 382.87,154.66" fill="url(#pg12)"/><polygon points="383.38,178.46 383.67,177.96 383.18,154.27 382.87,154.66" fill="#1a2a6a" opacity="0.1"/><polygon points="382.32,178.35 383.38,178.46 382.87,154.66 381.75,154.57" fill="url(#pg12)"/><polygon points="382.06,154.19 383.18,154.27 382.87,154.66 381.75,154.57" fill="#69c77c"/>
<polygon points="384.16,179.09 384.45,178.58 384.06,157.57 383.75,157.98" fill="url(#pg11)"/><polygon points="384.16,179.09 384.45,178.58 384.06,157.57 383.75,157.98" fill="#1a2a6a" opacity="0.1"/><polygon points="383.09,178.97 384.16,179.09 383.75,157.98 382.63,157.89" fill="url(#pg11)"/><polygon points="382.93,157.48 384.06,157.57 383.75,157.98 382.63,157.89" fill="#3ac1a5"/>
<polygon points="384.96,179.72 385.24,179.20 384.84,155.65 384.54,156.05" fill="url(#pg12)"/><polygon points="384.96,179.72 385.24,179.20 384.84,155.65 384.54,156.05" fill="#1a2a6a" opacity="0.1"/><polygon points="383.88,179.60 384.96,179.72 384.54,156.05 383.40,155.96" fill="url(#pg12)"/><polygon points="383.71,155.57 384.84,155.65 384.54,156.05 383.40,155.96" fill="#62c683"/>
<polygon points="385.76,180.36 386.04,179.83 385.68,155.68 385.39,156.08" fill="url(#pg12)"/><polygon points="385.76,180.36 386.04,179.83 385.68,155.68 385.39,156.08" fill="#1a2a6a" opacity="0.1"/><polygon points="384.67,180.24 385.76,180.36 385.39,156.08 384.23,155.99" fill="url(#pg12)"/><polygon points="384.54,155.59 385.68,155.68 385.39,156.08 384.23,155.99" fill="#69c77c"/>
<polygon points="386.58,181.01 386.85,180.48 386.54,155.71 386.24,156.12" fill="url(#pg12)"/><polygon points="386.58,181.01 386.85,180.48 386.54,155.71 386.24,156.12" fill="#1a2a6a" opacity="0.1"/><polygon points="385.48,180.89 386.58,181.01 386.24,156.12 385.08,156.03" fill="url(#pg12)"/><polygon points="385.38,155.62 386.54,155.71 386.24,156.12 385.08,156.03" fill="#71c876"/>
<polygon points="387.41,181.67 387.68,181.13 387.43,157.63 387.14,158.05" fill="url(#pg11)"/><polygon points="387.41,181.67 387.68,181.13 387.43,157.63 387.14,158.05" fill="#1a2a6a" opacity="0.1"/><polygon points="386.30,181.55 387.41,181.67 387.14,158.05 385.97,157.96" fill="url(#pg11)"/><polygon points="386.26,157.54 387.43,157.63 387.14,158.05 385.97,157.96" fill="#5ac589"/>
<polygon points="388.25,182.34 388.52,181.79 388.30,156.74 388.01,157.16" fill="url(#pg12)"/><polygon points="388.25,182.34 388.52,181.79 388.30,156.74 388.01,157.16" fill="#1a2a6a" opacity="0.1"/><polygon points="387.13,182.22 388.25,182.34 388.01,157.16 386.83,157.06" fill="url(#pg12)"/><polygon points="387.12,156.64 388.30,156.74 388.01,157.16 386.83,157.06" fill="#70c877"/>
<polygon points="389.10,183.02 389.37,182.46 389.23,160.47 388.95,160.92" fill="url(#pg11)"/><polygon points="389.10,183.02 389.37,182.46 389.23,160.47 388.95,160.92" fill="#1a2a6a" opacity="0.1"/><polygon points="387.98,182.90 389.10,183.02 388.95,160.92 387.76,160.82" fill="url(#pg11)"/><polygon points="388.04,160.37 389.23,160.47 388.95,160.92 387.76,160.82" fill="#3dc1a2"/>
<polygon points="389.97,183.71 390.23,183.15 390.13,158.75 389.85,159.19" fill="url(#pg12)"/><polygon points="389.97,183.71 390.23,183.15 390.13,158.75 389.85,159.19" fill="#1a2a6a" opacity="0.1"/><polygon points="388.83,183.59 389.97,183.71 389.85,159.19 388.64,159.10" fill="url(#pg12)"/><polygon points="388.93,158.66 390.13,158.75 389.85,159.19 388.64,159.10" fill="#61c683"/>
<polygon points="390.85,184.41 391.11,183.84 391.06,160.44 390.79,160.89" fill="url(#pg11)"/><polygon points="390.85,184.41 391.11,183.84 391.06,160.44 390.79,160.89" fill="#1a2a6a" opacity="0.1"/><polygon points="389.70,184.29 390.85,184.41 390.79,160.89 389.57,160.79" fill="url(#pg11)"/><polygon points="389.85,160.34 391.06,160.44 390.79,160.89 389.57,160.79" fill="#4fc493"/>
<polygon points="391.75,185.13 392.00,184.54 392.01,159.42 391.73,159.87" fill="url(#pg12)"/><polygon points="391.75,185.13 392.00,184.54 392.01,159.42 391.73,159.87" fill="#1a2a6a" opacity="0.1"/><polygon points="390.59,185.00 391.75,185.13 391.73,159.87 390.50,159.77" fill="url(#pg12)"/><polygon points="390.78,159.32 392.01,159.42 391.73,159.87 390.50,159.77" fill="#67c77e"/>
<polygon points="392.65,185.85 392.91,185.26 392.96,161.17 392.70,161.63" fill="url(#pg11)"/><polygon points="392.65,185.85 392.91,185.26 392.96,161.17 392.70,161.63" fill="#1a2a6a" opacity="0.1"/><polygon points="391.49,185.72 392.65,185.85 392.70,161.63 391.46,161.53" fill="url(#pg11)"/><polygon points="391.73,161.07 392.96,161.17 392.70,161.63 391.46,161.53" fill="#55c48d"/>
<polygon points="393.58,186.59 393.82,185.98 393.92,166.88 393.66,167.39" fill="url(#pg9)"/><polygon points="393.58,186.59 393.82,185.98 393.92,166.88 393.66,167.39" fill="#1a2a6a" opacity="0.1"/><polygon points="392.40,186.45 393.58,186.59 393.66,167.39 392.42,167.27" fill="url(#pg9)"/><polygon points="392.69,166.77 393.92,166.88 393.66,167.39 392.42,167.27" fill="#24b3ca"/>
<polygon points="394.51,187.33 394.76,186.72 394.94,161.74 394.68,162.22" fill="url(#pg12)"/><polygon points="394.51,187.33 394.76,186.72 394.94,161.74 394.68,162.22" fill="#1a2a6a" opacity="0.1"/><polygon points="393.33,187.20 394.51,187.33 394.68,162.22 393.41,162.11" fill="url(#pg12)"/><polygon points="393.68,161.63 394.94,161.74 394.68,162.22 393.41,162.11" fill="#5ec686"/>
<polygon points="395.47,188.09 395.71,187.47 395.93,164.04 395.68,164.54" fill="url(#pg11)"/><polygon points="395.47,188.09 395.71,187.47 395.93,164.04 395.68,164.54" fill="#1a2a6a" opacity="0.1"/><polygon points="394.27,187.95 395.47,188.09 395.68,164.54 394.41,164.42" fill="url(#pg11)"/><polygon points="394.67,163.93 395.93,164.04 395.68,164.54 394.41,164.42" fill="#44c29c"/>
<polygon points="396.43,188.86 396.67,188.23 396.97,163.47 396.72,163.97" fill="url(#pg11)"/><polygon points="396.43,188.86 396.67,188.23 396.97,163.47 396.72,163.97" fill="#1a2a6a" opacity="0.1"/><polygon points="395.22,188.72 396.43,188.86 396.72,163.97 395.43,163.86" fill="url(#pg11)"/><polygon points="395.69,163.36 396.97,163.47 396.72,163.97 395.43,163.86" fill="#56c58d"/>
<polygon points="397.42,189.65 397.65,189.00 398.00,165.13 397.76,165.65" fill="url(#pg11)"/><polygon points="397.42,189.65 397.65,189.00 398.00,165.13 397.76,165.65" fill="#1a2a6a" opacity="0.1"/><polygon points="396.20,189.50 397.42,189.65 397.76,165.65 396.46,165.53" fill="url(#pg11)"/><polygon points="396.71,165.02 398.00,165.13 397.76,165.65 396.46,165.53" fill="#46c29b"/>
<polygon points="398.42,190.44 398.64,189.79 399.06,165.37 398.83,165.89" fill="url(#pg11)"/><polygon points="398.42,190.44 398.64,189.79 399.06,165.37 398.83,165.89" fill="#1a2a6a" opacity="0.1"/><polygon points="397.18,190.30 398.42,190.44 398.83,165.89 397.52,165.77" fill="url(#pg11)"/><polygon points="397.76,165.26 399.06,165.37 398.83,165.89 397.52,165.77" fill="#4cc396"/>
<polygon points="399.43,191.25 399.65,190.59 400.15,165.91 399.91,166.44" fill="url(#pg11)"/><polygon points="399.43,191.25 399.65,190.59 400.15,165.91 399.91,166.44" fill="#1a2a6a" opacity="0.1"/><polygon points="398.19,191.11 399.43,191.25 399.91,166.44 398.59,166.32" fill="url(#pg11)"/><polygon points="398.83,165.80 400.15,165.91 399.91,166.44 398.59,166.32" fill="#4dc394"/>
<polygon points="400.47,192.08 400.68,191.40 401.13,171.45 400.91,172.01" fill="url(#pg9)"/><polygon points="400.47,192.08 400.68,191.40 401.13,171.45 400.91,172.01" fill="#1a2a6a" opacity="0.1"/><polygon points="399.21,191.93 400.47,192.08 400.91,172.01 399.59,171.89" fill="url(#pg9)"/><polygon points="399.82,171.32 401.13,171.45 400.91,172.01 399.59,171.89" fill="#24b3cb"/>
<polygon points="401.52,192.91 401.73,192.23 402.39,166.26 402.17,166.80" fill="url(#pg11)"/><polygon points="401.52,192.91 401.73,192.23 402.39,166.26 402.17,166.80" fill="#1a2a6a" opacity="0.1"/><polygon points="400.25,192.76 401.52,192.91 402.17,166.80 400.81,166.68" fill="url(#pg11)"/><polygon points="401.04,166.14 402.39,166.26 402.17,166.80 400.81,166.68" fill="#5bc588"/>
<polygon points="402.59,193.77 402.79,193.07 403.51,167.39 403.30,167.95" fill="url(#pg11)"/><polygon points="402.59,193.77 402.79,193.07 403.51,167.39 403.30,167.95" fill="#1a2a6a" opacity="0.1"/><polygon points="401.30,193.61 402.59,193.77 403.30,167.95 401.93,167.82" fill="url(#pg11)"/><polygon points="402.15,167.27 403.51,167.39 403.30,167.95 401.93,167.82" fill="#54c48e"/>
<polygon points="403.67,194.63 403.87,193.92 404.63,169.58 404.42,170.15" fill="url(#pg11)"/><polygon points="403.67,194.63 403.87,193.92 404.63,169.58 404.42,170.15" fill="#1a2a6a" opacity="0.1"/><polygon points="402.38,194.47 403.67,194.63 404.42,170.15 403.04,170.03" fill="url(#pg11)"/><polygon points="403.26,169.45 404.63,169.58 404.42,170.15 403.04,170.03" fill="#3ec1a1"/>
<polygon points="404.78,195.51 404.97,194.79 405.67,174.27 405.47,174.88" fill="url(#pg9)"/><polygon points="404.78,195.51 404.97,194.79 405.67,174.27 405.47,174.88" fill="#1a2a6a" opacity="0.1"/><polygon points="403.47,195.35 404.78,195.51 405.47,174.88 404.09,174.75" fill="url(#pg9)"/><polygon points="404.30,174.14 405.67,174.27 405.47,174.88 404.09,174.75" fill="#24b3cb"/>
<polygon points="405.90,196.41 406.09,195.67 407.06,169.47 406.87,170.06" fill="url(#pg11)"/><polygon points="405.90,196.41 406.09,195.67 407.06,169.47 406.87,170.06" fill="#1a2a6a" opacity="0.1"/><polygon points="404.58,196.25 405.90,196.41 406.87,170.06 405.45,169.93" fill="url(#pg11)"/><polygon points="405.66,169.34 407.06,169.47 406.87,170.06 405.45,169.93" fill="#54c48e"/>
<polygon points="407.05,197.32 407.23,196.57 408.24,171.29 408.06,171.89" fill="url(#pg11)"/><polygon points="407.05,197.32 407.23,196.57 408.24,171.29 408.06,171.89" fill="#1a2a6a" opacity="0.1"/><polygon points="405.71,197.16 407.05,197.32 408.06,171.89 406.63,171.76" fill="url(#pg11)"/><polygon points="406.83,171.16 408.24,171.29 408.06,171.89 406.63,171.76" fill="#45c29c"/>
<polygon points="408.21,198.25 408.39,197.49 409.25,177.55 409.07,178.20" fill="url(#pg9)"/><polygon points="408.21,198.25 408.39,197.49 409.25,177.55 409.07,178.20" fill="#1a2a6a" opacity="0.1"/><polygon points="406.87,198.08 408.21,198.25 409.07,178.20 407.65,178.05" fill="url(#pg9)"/><polygon points="407.84,177.40 409.25,177.55 409.07,178.20 407.65,178.05" fill="#22aed4"/>
<polygon points="409.40,199.19 409.56,198.42 410.65,175.11 410.48,175.75" fill="url(#pg10)"/><polygon points="409.40,199.19 409.56,198.42 410.65,175.11 410.48,175.75" fill="#1a2a6a" opacity="0.1"/><polygon points="408.04,199.02 409.40,199.19 410.48,175.75 409.03,175.61" fill="url(#pg10)"/><polygon points="409.21,174.97 410.65,175.11 410.48,175.75 409.03,175.61" fill="#28bdb6"/>
<polygon points="410.61,200.16 410.76,199.37 412.11,172.34 411.95,172.97" fill="url(#pg11)"/><polygon points="410.61,200.16 410.76,199.37 412.11,172.34 411.95,172.97" fill="#1a2a6a" opacity="0.1"/><polygon points="409.23,199.98 410.61,200.16 411.95,172.97 410.47,172.83" fill="url(#pg11)"/><polygon points="410.64,172.20 412.11,172.34 411.95,172.97 410.47,172.83" fill="#55c48d"/>
<polygon points="411.84,201.14 411.99,200.33 413.39,173.93 413.24,174.58" fill="url(#pg11)"/><polygon points="411.84,201.14 411.99,200.33 413.39,173.93 413.24,174.58" fill="#1a2a6a" opacity="0.1"/><polygon points="410.45,200.96 411.84,201.14 413.24,174.58 411.75,174.43" fill="url(#pg11)"/><polygon points="411.91,173.78 413.39,173.93 413.24,174.58 411.75,174.43" fill="#4ac397"/>
<polygon points="413.09,202.13 413.23,201.32 414.45,179.69 414.31,180.38" fill="url(#pg9)"/><polygon points="413.09,202.13 413.23,201.32 414.45,179.69 414.31,180.38" fill="#1a2a6a" opacity="0.1"/><polygon points="411.68,201.95 413.09,202.13 414.31,180.38 412.82,180.23" fill="url(#pg9)"/><polygon points="412.98,179.54 414.45,179.69 414.31,180.38 412.82,180.23" fill="#24b3ca"/>
<polygon points="414.36,203.15 414.50,202.32 416.06,176.22 415.93,176.90" fill="url(#pg11)"/><polygon points="414.36,203.15 414.50,202.32 416.06,176.22 415.93,176.90" fill="#1a2a6a" opacity="0.1"/><polygon points="412.94,202.97 414.36,203.15 415.93,176.90 414.41,176.75" fill="url(#pg11)"/><polygon points="414.55,176.07 416.06,176.22 415.93,176.90 414.41,176.75" fill="#41c29f"/>
<polygon points="415.66,204.19 415.79,203.34 417.16,181.72 417.04,182.45" fill="url(#pg9)"/><polygon points="415.66,204.19 415.79,203.34 417.16,181.72 417.04,182.45" fill="#1a2a6a" opacity="0.1"/><polygon points="414.23,204.00 415.66,204.19 417.04,182.45 415.52,182.29" fill="url(#pg9)"/><polygon points="415.65,181.57 417.16,181.72 417.04,182.45 415.52,182.29" fill="#24b2cd"/>
<polygon points="416.99,205.24 417.10,204.38 418.95,176.85 418.85,177.55" fill="url(#pg11)"/><polygon points="416.99,205.24 417.10,204.38 418.95,176.85 418.85,177.55" fill="#1a2a6a" opacity="0.1"/><polygon points="415.54,205.05 416.99,205.24 418.85,177.55 417.28,177.39" fill="url(#pg11)"/><polygon points="417.41,176.70 418.95,176.85 418.85,177.55 417.28,177.39" fill="#4fc493"/>
<polygon points="418.34,206.32 418.44,205.43 420.42,177.65 420.32,178.36" fill="url(#pg11)"/><polygon points="418.34,206.32 418.44,205.43 420.42,177.65 420.32,178.36" fill="#1a2a6a" opacity="0.1"/><polygon points="416.87,206.12 418.34,206.32 420.32,178.36 418.74,178.20" fill="url(#pg11)"/><polygon points="418.85,177.49 420.42,177.65 420.32,178.36 418.74,178.20" fill="#4fc492"/>
<polygon points="419.71,207.41 419.81,206.51 421.91,178.48 421.82,179.21" fill="url(#pg11)"/><polygon points="419.71,207.41 419.81,206.51 421.91,178.48 421.82,179.21" fill="#1a2a6a" opacity="0.1"/><polygon points="418.23,207.21 419.71,207.41 421.82,179.21 420.22,179.05" fill="url(#pg11)"/><polygon points="420.32,178.32 421.91,178.48 421.82,179.21 420.22,179.05" fill="#50c492"/>
<polygon points="421.11,208.53 421.20,207.61 423.38,180.03 423.30,180.78" fill="url(#pg11)"/><polygon points="421.11,208.53 421.20,207.61 423.38,180.03 423.30,180.78" fill="#1a2a6a" opacity="0.1"/><polygon points="419.61,208.32 421.11,208.53 423.30,180.78 421.68,180.61" fill="url(#pg11)"/><polygon points="421.77,179.87 423.38,180.03 423.30,180.78 421.68,180.61" fill="#47c299"/>
<polygon points="421.02,209.46 422.54,209.67 424.89,181.32 423.26,181.15" fill="url(#pg11)"/><polygon points="423.33,180.39 424.96,180.56 424.89,181.32 423.26,181.15" fill="#4cc395"/>
<polygon points="422.54,209.67 422.46,210.62 424.78,182.74 424.84,181.97" fill="url(#pg11)"/><polygon points="422.54,209.67 422.46,210.62 424.78,182.74 424.84,181.97" fill="#1a2a6a" opacity="0.1"/><polygon points="422.46,210.62 424.00,210.83 426.43,182.92 424.78,182.74" fill="url(#pg11)"/><polygon points="424.84,181.97 426.48,182.14 426.43,182.92 424.78,182.74" fill="#44c29c"/>
<polygon points="424.00,210.83 423.93,211.80 426.29,184.78 426.34,183.98" fill="url(#pg10)"/><polygon points="424.00,210.83 423.93,211.80 426.29,184.78 426.34,183.98" fill="#1a2a6a" opacity="0.1"/><polygon points="423.93,211.80 425.49,212.01 427.96,184.96 426.29,184.78" fill="url(#pg10)"/><polygon points="426.34,183.98 428.00,184.15 427.96,184.96 426.29,184.78" fill="#37c0a7"/>
<polygon points="425.49,212.01 425.43,213.00 427.60,189.31 427.64,188.47" fill="url(#pg9)"/><polygon points="425.49,212.01 425.43,213.00 427.60,189.31 427.64,188.47" fill="#1a2a6a" opacity="0.1"/><polygon points="425.43,213.00 427.00,213.22 429.28,189.50 427.60,189.31" fill="url(#pg9)"/><polygon points="427.64,188.47 429.31,188.65 429.28,189.50 427.60,189.31" fill="#25b5c7"/>
<polygon points="427.00,213.22 426.96,214.23 429.13,191.69 429.16,190.82" fill="url(#pg9)"/><polygon points="427.00,213.22 426.96,214.23 429.13,191.69 429.16,190.82" fill="#1a2a6a" opacity="0.1"/><polygon points="426.96,214.23 428.55,214.46 430.82,191.89 429.13,191.69" fill="url(#pg9)"/><polygon points="429.16,190.82 430.83,191.01 430.82,191.89 429.13,191.69" fill="#23afd2"/>
<polygon points="428.55,214.46 428.52,215.49 431.27,188.27 431.27,187.41" fill="url(#pg10)"/><polygon points="428.55,214.46 428.52,215.49 431.27,188.27 431.27,187.41" fill="#1a2a6a" opacity="0.1"/><polygon points="428.52,215.49 430.13,215.72 433.00,188.46 431.27,188.27" fill="url(#pg10)"/><polygon points="431.27,187.41 433.00,187.60 433.00,188.46 431.27,188.27" fill="#32bfac"/>
<polygon points="430.13,215.72 430.12,216.77 432.79,191.43 432.79,190.53" fill="url(#pg10)"/><polygon points="430.13,215.72 430.12,216.77 432.79,191.43 432.79,190.53" fill="#1a2a6a" opacity="0.1"/><polygon points="430.12,216.77 431.75,217.00 434.54,191.63 432.79,191.43" fill="url(#pg10)"/><polygon points="432.79,190.53 434.52,190.73 434.54,191.63 432.79,191.43" fill="#26b9be"/>
<polygon points="431.75,217.00 431.74,218.08 434.39,194.14 434.37,193.21" fill="url(#pg9)"/><polygon points="431.75,217.00 431.74,218.08 434.39,194.14 434.37,193.21" fill="#1a2a6a" opacity="0.1"/><polygon points="431.74,218.08 433.39,218.32 436.15,194.34 434.39,194.14" fill="url(#pg9)"/><polygon points="434.37,193.21 436.12,193.41 436.15,194.34 434.39,194.14" fill="#24b3cb"/>
<polygon points="433.39,218.32 433.41,219.41 436.23,195.00 436.19,194.05" fill="url(#pg9)"/><polygon points="433.39,218.32 433.41,219.41 436.23,195.00 436.19,194.05" fill="#1a2a6a" opacity="0.1"/><polygon points="433.41,219.41 435.08,219.66 438.02,195.21 436.23,195.00" fill="url(#pg9)"/><polygon points="436.19,194.05 437.96,194.26 438.02,195.21 436.23,195.00" fill="#24b4c8"/>
<polygon points="435.08,219.66 435.10,220.78 437.76,198.77 437.71,197.79" fill="url(#pg8)"/><polygon points="435.08,219.66 435.10,220.78 437.76,198.77 437.71,197.79" fill="#1a2a6a" opacity="0.1"/><polygon points="435.10,220.78 436.80,221.03 439.56,198.99 437.76,198.77" fill="url(#pg8)"/><polygon points="437.71,197.79 439.49,198.00 439.56,198.99 437.76,198.77" fill="#21aadd"/>
<polygon points="436.80,221.03 436.84,222.17 439.82,198.54 439.74,197.55" fill="url(#pg9)"/><polygon points="436.80,221.03 436.84,222.17 439.82,198.54 439.74,197.55" fill="#1a2a6a" opacity="0.1"/><polygon points="436.84,222.17 438.55,222.43 441.65,198.77 439.82,198.54" fill="url(#pg9)"/><polygon points="439.74,197.55 441.56,197.76 441.65,198.77 439.82,198.54" fill="#23b0d1"/>
<path d="M376.5,139.3 V173.5 M373,139.3 H376.5 M373.6,173.5 H376.5" stroke="#555" stroke-width="0.45" fill="none"/>
<path d="M376.5,139.3 L445.3,170.2 L442.9,196" stroke="#55607a" stroke-width="0.45" fill="none"/>
<text x="370.8" y="141.3" font-size="5.6" fill="#454545">1</text>
<text x="370.5" y="175.6" font-size="5.6" fill="#454545">0</text>
<text x="397.2" y="146.4" font-size="6.7" word-spacing="0.32" textLength="38.5" lengthAdjust="spacing" fill="#454545" font-style="italic" transform="rotate(23 397.2 146.4)">N=55 modes</text>
<mask id="icd1"><circle cx="352" cy="222.5" r="5.6" fill="url(#icm)"/></mask><g mask="url(#icd1)"><rect x="346.4" y="216.9" width="11.2" height="11.2" filter="url(#fic1)"/></g>
<mask id="icd2"><circle cx="393.8" cy="230" r="5.6" fill="url(#icm)"/></mask><g mask="url(#icd2)"><rect x="388.2" y="224.4" width="11.2" height="11.2" filter="url(#fic2)"/></g>
<mask id="icd3"><circle cx="433.8" cy="236" r="5.6" fill="url(#icm)"/></mask><g mask="url(#icd3)"><rect x="428.2" y="230.4" width="11.2" height="11.2" filter="url(#fic3)"/></g>
<text x="372" y="227.9" font-size="6.4" text-anchor="middle" textLength="5.8" lengthAdjust="spacing" fill="#111" font-weight="bold">...</text>
<text x="414.5" y="234.6" font-size="6.4" text-anchor="middle" textLength="5.8" lengthAdjust="spacing" fill="#111" font-weight="bold">...</text>
<text x="375.2" y="251" font-size="6.3" word-spacing="2.83" textLength="51" lengthAdjust="spacing" fill="#454545">Cross-talk matrix</text>
<text x="470" y="142.20000000000002" font-size="6.3" word-spacing="1.70" textLength="40.8" lengthAdjust="spacing" fill="#454545">Rel. efficiency</text>
<text x="463.2" y="149.20000000000002" font-size="5.2" fill="#454545">1</text>
<text x="463.2" y="161.0" font-size="5.2" fill="#454545">0</text>
<rect x="467.6" y="146.6" width="46.799999999999955" height="12.200000000000017" fill="#f0f0fd" stroke="#c8c8e4" stroke-width="0.4"/>
<path d="M468.21,158.8v-6.71h0.62v6.71zM469.04,158.8v-10.37h0.62v10.37zM469.87,158.8v-9.76h0.62v9.76zM470.70,158.8v-6.10h0.62v6.10zM471.54,158.8v-9.57h0.62v9.57zM472.37,158.8v-5.44h0.62v5.44zM473.20,158.8v-5.21h0.62v5.21zM474.04,158.8v-8.78h0.62v8.78zM474.87,158.8v-4.77h0.62v4.77zM475.70,158.8v-5.27h0.62v5.27zM476.53,158.8v-6.40h0.62v6.40zM477.37,158.8v-5.71h0.62v5.71zM478.20,158.8v-9.52h0.62v9.52zM479.03,158.8v-5.08h0.62v5.08zM479.86,158.8v-4.89h0.62v4.89zM480.70,158.8v-7.56h0.62v7.56zM481.53,158.8v-4.76h0.62v4.76zM482.36,158.8v-6.46h0.62v6.46zM483.20,158.8v-4.53h0.62v4.53zM484.03,158.8v-4.46h0.62v4.46zM484.86,158.8v-5.40h0.62v5.40zM485.69,158.8v-7.32h0.62v7.32zM486.53,158.8v-4.54h0.62v4.54zM487.36,158.8v-4.34h0.62v4.34zM488.19,158.8v-7.56h0.62v7.56zM489.02,158.8v-4.03h0.62v4.03zM489.86,158.8v-4.34h0.62v4.34zM490.69,158.8v-3.84h0.62v3.84zM491.52,158.8v-4.81h0.62v4.81zM492.36,158.8v-7.32h0.62v7.32zM493.19,158.8v-4.29h0.62v4.29zM494.02,158.8v-3.94h0.62v3.94zM494.85,158.8v-5.00h0.62v5.00zM495.69,158.8v-7.05h0.62v7.05zM496.52,158.8v-3.89h0.62v3.89zM497.35,158.8v-10.37h0.62v10.37zM498.18,158.8v-4.16h0.62v4.16zM499.02,158.8v-6.16h0.62v6.16zM499.85,158.8v-4.36h0.62v4.36zM500.68,158.8v-3.50h0.62v3.50zM501.52,158.8v-3.22h0.62v3.22zM502.35,158.8v-3.60h0.62v3.60zM503.18,158.8v-4.19h0.62v4.19zM504.01,158.8v-3.66h0.62v3.66zM504.85,158.8v-3.15h0.62v3.15zM505.68,158.8v-2.99h0.62v2.99zM506.51,158.8v-3.61h0.62v3.61zM507.34,158.8v-3.13h0.62v3.13zM508.18,158.8v-7.25h0.62v7.25zM509.01,158.8v-3.60h0.62v3.60zM509.84,158.8v-4.74h0.62v4.74zM510.68,158.8v-2.93h0.62v2.93zM511.51,158.8v-2.77h0.62v2.77zM512.34,158.8v-3.38h0.62v3.38zM513.17,158.8v-2.82h0.62v2.82z" fill="#9d9be0"/>
<text x="514.7" y="176.0" font-size="6.0" textLength="24.5" lengthAdjust="spacing" fill="#454545" transform="rotate(90 514.7 176.0)">Modes out</text>
<rect x="467.7" y="167.4" width="45.8" height="45.3" fill="#2995ea"/>
<rect x="467.7" y="167.4" width="45.8" height="45.3" filter="url(#fmat)"/>
<path d="M468.0,167.70000000000002 L513.2,212.39999999999998" stroke="#4fc8c0" stroke-width="2.0" opacity="0.4"/>
<path d="M468.0,167.70000000000002 L513.2,212.39999999999998" stroke="#8fdc78" stroke-width="0.9"/>
<text x="479.4" y="167.1" font-size="6.0" textLength="23.8" lengthAdjust="spacing" fill="#454545">Modes in</text>
<rect x="468.2" y="217.3" width="46.4" height="3.5" fill="url(#pbarh)"/>
<text x="468.6" y="225.70000000000002" font-size="3.6" text-anchor="middle" fill="#555">-35</text>
<text x="482" y="225.70000000000002" font-size="3.6" text-anchor="middle" fill="#555">-25</text>
<text x="494.8" y="225.70000000000002" font-size="3.6" text-anchor="middle" fill="#555">-15</text>
<text x="507.4" y="225.70000000000002" font-size="3.6" text-anchor="middle" fill="#555">-5</text>
<text x="514" y="225.70000000000002" font-size="3.6" text-anchor="middle" fill="#555">0</text>
<text x="488.4" y="233.10000000000002" font-size="5.8" textLength="6.4" lengthAdjust="spacing" fill="#454545">dB</text>
<text x="466" y="243.0" font-size="6.3" word-spacing="2.83" textLength="50.2" lengthAdjust="spacing" fill="#454545">Cross-talk matrix</text>
<text x="476.8" y="248.8" font-size="6.3" word-spacing="2.83" textLength="33.7" lengthAdjust="spacing" fill="#454545">(log scale)</text>
</svg>
</body></html>
